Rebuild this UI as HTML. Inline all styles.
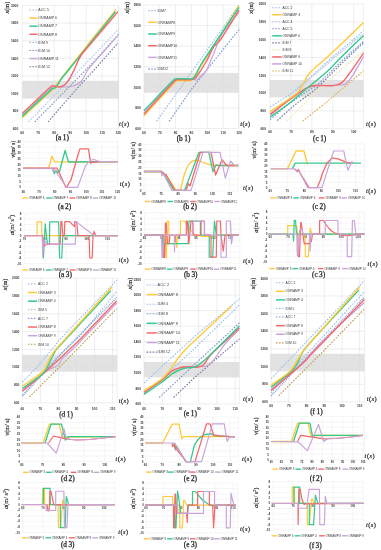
<!DOCTYPE html>
<html><head><meta charset="utf-8"><style>
html,body{margin:0;padding:0;background:#fff;width:381px;height:550px;overflow:hidden}
svg{display:block}
</style></head><body>
<svg width="381" height="550" viewBox="0 0 381 550">
<rect width="381" height="550" fill="#fff"/>
<rect x="22.2" y="80.8" width="96.4" height="17.8" fill="#E2E2E2"/>
<line x1="22.2" y1="128.8" x2="118.6" y2="128.8" stroke="#DDDDDD" stroke-width="0.5"/>
<line x1="22.2" y1="111.19" x2="118.6" y2="111.19" stroke="#DDDDDD" stroke-width="0.5"/>
<line x1="22.2" y1="93.57" x2="118.6" y2="93.57" stroke="#DDDDDD" stroke-width="0.5"/>
<line x1="22.2" y1="75.96" x2="118.6" y2="75.96" stroke="#DDDDDD" stroke-width="0.5"/>
<line x1="22.2" y1="58.34" x2="118.6" y2="58.34" stroke="#DDDDDD" stroke-width="0.5"/>
<line x1="22.2" y1="40.73" x2="118.6" y2="40.73" stroke="#DDDDDD" stroke-width="0.5"/>
<line x1="22.2" y1="23.11" x2="118.6" y2="23.11" stroke="#DDDDDD" stroke-width="0.5"/>
<line x1="22.2" y1="5.5" x2="118.6" y2="5.5" stroke="#DDDDDD" stroke-width="0.5"/>
<line x1="22.2" y1="5.5" x2="22.2" y2="128.8" stroke="#DDDDDD" stroke-width="0.5"/>
<line x1="38.2" y1="5.5" x2="38.2" y2="128.8" stroke="#DDDDDD" stroke-width="0.5"/>
<line x1="54.2" y1="5.5" x2="54.2" y2="128.8" stroke="#DDDDDD" stroke-width="0.5"/>
<line x1="70.2" y1="5.5" x2="70.2" y2="128.8" stroke="#DDDDDD" stroke-width="0.5"/>
<line x1="86.2" y1="5.5" x2="86.2" y2="128.8" stroke="#DDDDDD" stroke-width="0.5"/>
<line x1="102.2" y1="5.5" x2="102.2" y2="128.8" stroke="#DDDDDD" stroke-width="0.5"/>
<line x1="118.2" y1="5.5" x2="118.2" y2="128.8" stroke="#DDDDDD" stroke-width="0.5"/>
<line x1="118.6" y1="5.5" x2="118.6" y2="128.8" stroke="#DDDDDD" stroke-width="0.5"/>
<text x="18.3" y="130" font-size="3.3" text-anchor="end" fill="#3a3a3a" font-family="Liberation Sans, sans-serif" font-weight="bold">600</text>
<text x="18.3" y="112.39" font-size="3.3" text-anchor="end" fill="#3a3a3a" font-family="Liberation Sans, sans-serif" font-weight="bold">800</text>
<text x="18.3" y="94.77" font-size="3.3" text-anchor="end" fill="#3a3a3a" font-family="Liberation Sans, sans-serif" font-weight="bold">1000</text>
<text x="18.3" y="77.16" font-size="3.3" text-anchor="end" fill="#3a3a3a" font-family="Liberation Sans, sans-serif" font-weight="bold">1200</text>
<text x="18.3" y="59.54" font-size="3.3" text-anchor="end" fill="#3a3a3a" font-family="Liberation Sans, sans-serif" font-weight="bold">1400</text>
<text x="18.3" y="41.93" font-size="3.3" text-anchor="end" fill="#3a3a3a" font-family="Liberation Sans, sans-serif" font-weight="bold">1600</text>
<text x="18.3" y="24.31" font-size="3.3" text-anchor="end" fill="#3a3a3a" font-family="Liberation Sans, sans-serif" font-weight="bold">1800</text>
<text x="18.3" y="6.7" font-size="3.3" text-anchor="end" fill="#3a3a3a" font-family="Liberation Sans, sans-serif" font-weight="bold">2000</text>
<text x="22.2" y="134.3" font-size="3.3" text-anchor="middle" fill="#3a3a3a" font-family="Liberation Sans, sans-serif" font-weight="bold">60</text>
<text x="38.2" y="134.3" font-size="3.3" text-anchor="middle" fill="#3a3a3a" font-family="Liberation Sans, sans-serif" font-weight="bold">70</text>
<text x="54.2" y="134.3" font-size="3.3" text-anchor="middle" fill="#3a3a3a" font-family="Liberation Sans, sans-serif" font-weight="bold">80</text>
<text x="70.2" y="134.3" font-size="3.3" text-anchor="middle" fill="#3a3a3a" font-family="Liberation Sans, sans-serif" font-weight="bold">90</text>
<text x="86.2" y="134.3" font-size="3.3" text-anchor="middle" fill="#3a3a3a" font-family="Liberation Sans, sans-serif" font-weight="bold">100</text>
<text x="102.2" y="134.3" font-size="3.3" text-anchor="middle" fill="#3a3a3a" font-family="Liberation Sans, sans-serif" font-weight="bold">110</text>
<text x="118.2" y="134.3" font-size="3.3" text-anchor="middle" fill="#3a3a3a" font-family="Liberation Sans, sans-serif" font-weight="bold">120</text>
<polyline points="28.4,122 89.3,60 118.6,29" fill="none" stroke="#AFCBEC" stroke-width="1.15" stroke-dasharray="1.6,1.4" stroke-linejoin="round"/>
<polyline points="34.7,122 95.6,60 118.6,34" fill="none" stroke="#7D97CC" stroke-width="1.15" stroke-dasharray="1.6,1.4" stroke-linejoin="round"/>
<polyline points="48.1,122 62.8,104.7 80.2,85 93.6,70.5 118,43" fill="none" stroke="#6A7BA0" stroke-width="1.15" stroke-dasharray="1.6,1.4" stroke-linejoin="round"/>
<path d="M22.2,115.5 C26.65,111.2 43.4,94.52 48.9,89.7 C51.01,87.85 52.97,87.05 55.2,86.6 C57.43,86.15 59.46,87.07 62.3,87 C65.18,86.93 69.38,87.12 72.5,86.2 C75.62,85.28 78.45,84.2 81,81.5 C83.55,78.8 85.02,73.83 87.8,70 C90.58,66.17 93.7,63.07 97.7,58.5 C102.73,52.75 114.62,39.33 118,35.5" fill="none" stroke="#C9A3D9" stroke-width="1.1"/>
<path d="M22.2,117.7 C27.43,112.85 47.83,94.18 53.6,88.6 C55.16,87.09 55.48,85.93 56.8,84.2 C59.17,81.1 63.35,75.64 67.8,70 C74.17,61.93 86.97,45.87 95,35.8 C103.03,25.73 112.5,13.97 116,9.6" fill="none" stroke="#FFCA3A" stroke-width="1.4"/>
<path d="M22.2,116.2 C27.17,111.65 46.37,93.72 52,88.9 C53.31,87.78 54.83,88.56 56,87.3 C57.58,85.6 59.53,81.42 61.5,78.7 C63.47,75.98 65.3,74.1 67.8,71 C73.38,64.07 87.05,46.97 95,37.1 C102.95,27.23 112.08,16.02 115.5,11.8" fill="none" stroke="#34C98E" stroke-width="1.4"/>
<path d="M22.2,113.5 C26.92,109.08 45.27,91.63 50.5,87 C51.51,86.11 52.26,85.7 53.6,85.7 C55.03,85.7 57.38,87.05 59.1,87 C60.82,86.95 62.32,86.53 63.9,85.4 C65.48,84.27 67.05,82.54 68.6,80.2 C70.3,77.63 72.03,74.12 74.1,70 C76.17,65.88 77.52,60.69 81,55.5 C84.48,50.31 89.39,45.5 95,38.85 C101.17,31.53 114.17,16.14 118,11.6" fill="none" stroke="#F5686A" stroke-width="1.4"/>
<polyline points="29.5,10 37.5,10" fill="none" stroke="#9DC0E8" stroke-width="1.1" stroke-dasharray="1.6,1.4" stroke-linejoin="round"/>
<text x="38.3" y="11.2" font-size="3.6" text-anchor="start" fill="#404040" font-family="Liberation Sans, sans-serif">ACC 5</text>
<polyline points="29.5,18.1 37.5,18.1" fill="none" stroke="#FFCA3A" stroke-width="1.5" stroke-linejoin="round"/>
<text x="38.3" y="19.3" font-size="3.6" text-anchor="start" fill="#404040" font-family="Liberation Sans, sans-serif">ONRAMP 6</text>
<polyline points="29.5,26.2 37.5,26.2" fill="none" stroke="#34C98E" stroke-width="1.5" stroke-linejoin="round"/>
<text x="38.3" y="27.4" font-size="3.6" text-anchor="start" fill="#404040" font-family="Liberation Sans, sans-serif">ONRAMP 7</text>
<polyline points="29.5,34.3 37.5,34.3" fill="none" stroke="#F5686A" stroke-width="1.5" stroke-linejoin="round"/>
<text x="38.3" y="35.5" font-size="3.6" text-anchor="start" fill="#404040" font-family="Liberation Sans, sans-serif">ONRAMP 8</text>
<polyline points="29.5,42.4 37.5,42.4" fill="none" stroke="#9DC0E8" stroke-width="1.1" stroke-dasharray="1.6,1.4" stroke-linejoin="round"/>
<text x="38.3" y="43.6" font-size="3.6" text-anchor="start" fill="#404040" font-family="Liberation Sans, sans-serif">IDM 9</text>
<polyline points="29.5,50.5 37.5,50.5" fill="none" stroke="#7D97CC" stroke-width="1.1" stroke-dasharray="1.6,1.4" stroke-linejoin="round"/>
<text x="38.3" y="51.7" font-size="3.6" text-anchor="start" fill="#404040" font-family="Liberation Sans, sans-serif">IDM 10</text>
<polyline points="29.5,58.6 37.5,58.6" fill="none" stroke="#C9A3D9" stroke-width="1.5" stroke-linejoin="round"/>
<text x="38.3" y="59.8" font-size="3.6" text-anchor="start" fill="#404040" font-family="Liberation Sans, sans-serif">ONRAMP 11</text>
<polyline points="29.5,66.7 37.5,66.7" fill="none" stroke="#6A7BA0" stroke-width="1.1" stroke-dasharray="1.6,1.4" stroke-linejoin="round"/>
<text x="38.3" y="67.9" font-size="3.6" text-anchor="start" fill="#404040" font-family="Liberation Sans, sans-serif">IDM 12</text>
<text x="8.67" y="7.6" font-size="6.2" text-anchor="middle" fill="#222" stroke="#222" stroke-width="0.15" font-family="Liberation Serif, serif" transform="rotate(-90 8.67 7.6)"><tspan font-style="italic">x</tspan>(m)</text>
<text x="119.1" y="125.8" font-size="6.4" letter-spacing="0.5" fill="#222" stroke="#222" stroke-width="0.2" font-family="Liberation Serif, serif"><tspan font-style="italic">t</tspan>(<tspan font-style="italic">s</tspan>)</text>
<text x="62.3" y="139.8" font-size="7.3" text-anchor="middle" fill="#222" stroke="#222" stroke-width="0.25" font-family="Liberation Serif, serif">(a&#8201;1)</text>
<rect x="144" y="72.9" width="94.6" height="19.9" fill="#E2E2E2"/>
<line x1="144" y1="128.5" x2="238.6" y2="128.5" stroke="#DDDDDD" stroke-width="0.5"/>
<line x1="144" y1="107.92" x2="238.6" y2="107.92" stroke="#DDDDDD" stroke-width="0.5"/>
<line x1="144" y1="87.33" x2="238.6" y2="87.33" stroke="#DDDDDD" stroke-width="0.5"/>
<line x1="144" y1="66.75" x2="238.6" y2="66.75" stroke="#DDDDDD" stroke-width="0.5"/>
<line x1="144" y1="46.17" x2="238.6" y2="46.17" stroke="#DDDDDD" stroke-width="0.5"/>
<line x1="144" y1="25.58" x2="238.6" y2="25.58" stroke="#DDDDDD" stroke-width="0.5"/>
<line x1="144" y1="5" x2="238.6" y2="5" stroke="#DDDDDD" stroke-width="0.5"/>
<line x1="143.9" y1="5" x2="143.9" y2="128.5" stroke="#DDDDDD" stroke-width="0.5"/>
<line x1="159.75" y1="5" x2="159.75" y2="128.5" stroke="#DDDDDD" stroke-width="0.5"/>
<line x1="175.6" y1="5" x2="175.6" y2="128.5" stroke="#DDDDDD" stroke-width="0.5"/>
<line x1="191.45" y1="5" x2="191.45" y2="128.5" stroke="#DDDDDD" stroke-width="0.5"/>
<line x1="207.3" y1="5" x2="207.3" y2="128.5" stroke="#DDDDDD" stroke-width="0.5"/>
<line x1="223.15" y1="5" x2="223.15" y2="128.5" stroke="#DDDDDD" stroke-width="0.5"/>
<line x1="239" y1="5" x2="239" y2="128.5" stroke="#DDDDDD" stroke-width="0.5"/>
<line x1="238.6" y1="5" x2="238.6" y2="128.5" stroke="#DDDDDD" stroke-width="0.5"/>
<text x="140.8" y="129.7" font-size="3.3" text-anchor="end" fill="#3a3a3a" font-family="Liberation Sans, sans-serif" font-weight="bold">600</text>
<text x="140.8" y="109.12" font-size="3.3" text-anchor="end" fill="#3a3a3a" font-family="Liberation Sans, sans-serif" font-weight="bold">800</text>
<text x="140.8" y="88.53" font-size="3.3" text-anchor="end" fill="#3a3a3a" font-family="Liberation Sans, sans-serif" font-weight="bold">1000</text>
<text x="140.8" y="67.95" font-size="3.3" text-anchor="end" fill="#3a3a3a" font-family="Liberation Sans, sans-serif" font-weight="bold">1200</text>
<text x="140.8" y="47.37" font-size="3.3" text-anchor="end" fill="#3a3a3a" font-family="Liberation Sans, sans-serif" font-weight="bold">1400</text>
<text x="140.8" y="26.78" font-size="3.3" text-anchor="end" fill="#3a3a3a" font-family="Liberation Sans, sans-serif" font-weight="bold">1600</text>
<text x="140.8" y="6.2" font-size="3.3" text-anchor="end" fill="#3a3a3a" font-family="Liberation Sans, sans-serif" font-weight="bold">1800</text>
<text x="143.9" y="134.2" font-size="3.3" text-anchor="middle" fill="#3a3a3a" font-family="Liberation Sans, sans-serif" font-weight="bold">60</text>
<text x="159.75" y="134.2" font-size="3.3" text-anchor="middle" fill="#3a3a3a" font-family="Liberation Sans, sans-serif" font-weight="bold">70</text>
<text x="175.6" y="134.2" font-size="3.3" text-anchor="middle" fill="#3a3a3a" font-family="Liberation Sans, sans-serif" font-weight="bold">80</text>
<text x="191.45" y="134.2" font-size="3.3" text-anchor="middle" fill="#3a3a3a" font-family="Liberation Sans, sans-serif" font-weight="bold">90</text>
<text x="207.3" y="134.2" font-size="3.3" text-anchor="middle" fill="#3a3a3a" font-family="Liberation Sans, sans-serif" font-weight="bold">100</text>
<text x="223.15" y="134.2" font-size="3.3" text-anchor="middle" fill="#3a3a3a" font-family="Liberation Sans, sans-serif" font-weight="bold">110</text>
<text x="239" y="134.2" font-size="3.3" text-anchor="middle" fill="#3a3a3a" font-family="Liberation Sans, sans-serif" font-weight="bold">120</text>
<polyline points="156.5,121.4 200,60 239,4.9" fill="none" stroke="#9DC0E8" stroke-width="1.15" stroke-dasharray="1.6,1.4" stroke-linejoin="round"/>
<polyline points="169.1,121.4 191.5,89.2 239,29.5" fill="none" stroke="#7D97CC" stroke-width="1.15" stroke-dasharray="1.6,1.4" stroke-linejoin="round"/>
<path d="M143.9,112.8 C149,107.33 168.82,85.6 174.5,80 C175.52,78.99 176.56,79.25 178,79.2 C180.65,79.12 187.73,79.5 190.4,79.5 C191.84,79.5 192.98,79.08 194,79.2 C195.02,79.32 195.52,80.65 196.5,80.2 C197.67,79.67 199.37,77.63 201,76 C202.63,74.37 204.77,73.08 206.3,70.4 C208.4,66.73 211.02,60 213.6,54 C216.18,48 217.57,41.35 221.8,34.4 C226.03,27.45 236.13,15.98 239,12.3" fill="none" stroke="#C9A3D9" stroke-width="1.2"/>
<path d="M143.9,115.9 C149.28,110.13 169.85,87.17 176.2,81.3 C177.91,79.72 179.67,80.83 182,80.7 C184.37,80.57 188.57,80.87 190.4,80.5 C191.69,80.24 192.29,79.6 193,78.5 C201.1,66.03 231.33,17.83 239,5.7" fill="none" stroke="#FFCA3A" stroke-width="1.4"/>
<path d="M143.9,114.3 C149.15,108.67 169.38,86.27 175.4,80.5 C176.75,79.21 178.14,79.8 180,79.7 C182.5,79.57 188.02,79.88 190.4,79.7 C192.02,79.58 193.2,79.22 194.3,78.6 C195.4,77.98 196.14,77.23 197,76 C198.95,73.23 203.23,66.83 206,62 C208.77,57.17 211.77,50.08 213.6,47 C214.6,45.32 215.77,44.83 217,43.5 C218.23,42.17 219.68,41.01 221,39 C224.67,33.43 236,14.92 239,10.1" fill="none" stroke="#F5686A" stroke-width="1.4"/>
<path d="M143.9,110.7 C148.9,105.53 168.25,85.05 173.9,79.7 C175.08,78.59 176.18,78.68 177.8,78.6 C180.55,78.47 187.78,78.98 190.4,78.9 C191.68,78.86 192.57,78.83 193.5,78.1 C194.43,77.37 195.15,76.03 196,74.5 C197.32,72.12 198.81,67.84 201.4,63.8 C208.57,52.62 232.73,16.8 239,7.4" fill="none" stroke="#34C98E" stroke-width="1.4"/>
<polyline points="148.2,10.6 156.7,10.6" fill="none" stroke="#9DC0E8" stroke-width="1.1" stroke-dasharray="1.6,1.4" stroke-linejoin="round"/>
<text x="157.5" y="11.8" font-size="3.6" text-anchor="start" fill="#404040" font-family="Liberation Sans, sans-serif">IDM7</text>
<polyline points="148.2,22.3 156.7,22.3" fill="none" stroke="#FFCA3A" stroke-width="1.5" stroke-linejoin="round"/>
<text x="157.5" y="23.5" font-size="3.6" text-anchor="start" fill="#404040" font-family="Liberation Sans, sans-serif">ONRAMP8</text>
<polyline points="148.2,34 156.7,34" fill="none" stroke="#34C98E" stroke-width="1.5" stroke-linejoin="round"/>
<text x="157.5" y="35.2" font-size="3.6" text-anchor="start" fill="#404040" font-family="Liberation Sans, sans-serif">ONRAMP9</text>
<polyline points="148.2,45.7 156.7,45.7" fill="none" stroke="#F5686A" stroke-width="1.5" stroke-linejoin="round"/>
<text x="157.5" y="46.9" font-size="3.6" text-anchor="start" fill="#404040" font-family="Liberation Sans, sans-serif">ONRAMP10</text>
<polyline points="148.2,57.4 156.7,57.4" fill="none" stroke="#C9A3D9" stroke-width="1.5" stroke-linejoin="round"/>
<text x="157.5" y="58.6" font-size="3.6" text-anchor="start" fill="#404040" font-family="Liberation Sans, sans-serif">ONRAMP11</text>
<polyline points="148.2,69.1 156.7,69.1" fill="none" stroke="#7D97CC" stroke-width="1.1" stroke-dasharray="1.6,1.4" stroke-linejoin="round"/>
<text x="157.5" y="70.3" font-size="3.6" text-anchor="start" fill="#404040" font-family="Liberation Sans, sans-serif">IDM12</text>
<text x="129.17" y="7.7" font-size="6.2" text-anchor="middle" fill="#222" stroke="#222" stroke-width="0.15" font-family="Liberation Serif, serif" transform="rotate(-90 129.17 7.7)"><tspan font-style="italic">x</tspan>(m)</text>
<text x="240.2" y="126.3" font-size="6.4" letter-spacing="0.5" fill="#222" stroke="#222" stroke-width="0.2" font-family="Liberation Serif, serif"><tspan font-style="italic">t</tspan>(<tspan font-style="italic">s</tspan>)</text>
<text x="183.5" y="140.6" font-size="7.3" text-anchor="middle" fill="#222" stroke="#222" stroke-width="0.25" font-family="Liberation Serif, serif">(b&#8201;1)</text>
<rect x="269.5" y="80" width="93.9" height="17.3" fill="#E2E2E2"/>
<line x1="269.5" y1="128.7" x2="363.4" y2="128.7" stroke="#DDDDDD" stroke-width="0.5"/>
<line x1="269.5" y1="110.9" x2="363.4" y2="110.9" stroke="#DDDDDD" stroke-width="0.5"/>
<line x1="269.5" y1="93.1" x2="363.4" y2="93.1" stroke="#DDDDDD" stroke-width="0.5"/>
<line x1="269.5" y1="75.3" x2="363.4" y2="75.3" stroke="#DDDDDD" stroke-width="0.5"/>
<line x1="269.5" y1="57.5" x2="363.4" y2="57.5" stroke="#DDDDDD" stroke-width="0.5"/>
<line x1="269.5" y1="39.7" x2="363.4" y2="39.7" stroke="#DDDDDD" stroke-width="0.5"/>
<line x1="269.5" y1="21.9" x2="363.4" y2="21.9" stroke="#DDDDDD" stroke-width="0.5"/>
<line x1="269.5" y1="4.1" x2="363.4" y2="4.1" stroke="#DDDDDD" stroke-width="0.5"/>
<line x1="270.1" y1="4.1" x2="270.1" y2="128.7" stroke="#DDDDDD" stroke-width="0.5"/>
<line x1="291" y1="4.1" x2="291" y2="128.7" stroke="#DDDDDD" stroke-width="0.5"/>
<line x1="311.9" y1="4.1" x2="311.9" y2="128.7" stroke="#DDDDDD" stroke-width="0.5"/>
<line x1="332.8" y1="4.1" x2="332.8" y2="128.7" stroke="#DDDDDD" stroke-width="0.5"/>
<line x1="353.7" y1="4.1" x2="353.7" y2="128.7" stroke="#DDDDDD" stroke-width="0.5"/>
<line x1="363.4" y1="4.1" x2="363.4" y2="128.7" stroke="#DDDDDD" stroke-width="0.5"/>
<text x="266" y="129.9" font-size="3.3" text-anchor="end" fill="#3a3a3a" font-family="Liberation Sans, sans-serif" font-weight="bold">600</text>
<text x="266" y="112.1" font-size="3.3" text-anchor="end" fill="#3a3a3a" font-family="Liberation Sans, sans-serif" font-weight="bold">800</text>
<text x="266" y="94.3" font-size="3.3" text-anchor="end" fill="#3a3a3a" font-family="Liberation Sans, sans-serif" font-weight="bold">1000</text>
<text x="266" y="76.5" font-size="3.3" text-anchor="end" fill="#3a3a3a" font-family="Liberation Sans, sans-serif" font-weight="bold">1200</text>
<text x="266" y="58.7" font-size="3.3" text-anchor="end" fill="#3a3a3a" font-family="Liberation Sans, sans-serif" font-weight="bold">1400</text>
<text x="266" y="40.9" font-size="3.3" text-anchor="end" fill="#3a3a3a" font-family="Liberation Sans, sans-serif" font-weight="bold">1600</text>
<text x="266" y="23.1" font-size="3.3" text-anchor="end" fill="#3a3a3a" font-family="Liberation Sans, sans-serif" font-weight="bold">1800</text>
<text x="266" y="5.3" font-size="3.3" text-anchor="end" fill="#3a3a3a" font-family="Liberation Sans, sans-serif" font-weight="bold">2000</text>
<text x="270.1" y="133.2" font-size="3.3" text-anchor="middle" fill="#3a3a3a" font-family="Liberation Sans, sans-serif" font-weight="bold">60</text>
<text x="291" y="133.2" font-size="3.3" text-anchor="middle" fill="#3a3a3a" font-family="Liberation Sans, sans-serif" font-weight="bold">70</text>
<text x="311.9" y="133.2" font-size="3.3" text-anchor="middle" fill="#3a3a3a" font-family="Liberation Sans, sans-serif" font-weight="bold">80</text>
<text x="332.8" y="133.2" font-size="3.3" text-anchor="middle" fill="#3a3a3a" font-family="Liberation Sans, sans-serif" font-weight="bold">90</text>
<text x="353.7" y="133.2" font-size="3.3" text-anchor="middle" fill="#3a3a3a" font-family="Liberation Sans, sans-serif" font-weight="bold">100</text>
<polyline points="270.1,107 290,94.4 300,86 333.1,56.5 363.3,31" fill="none" stroke="#9DC0E8" stroke-width="1.15" stroke-dasharray="1.6,1.4" stroke-linejoin="round"/>
<polyline points="270.1,119.5 287.7,104.8 300.8,95.6 318,84.4 340,62.5 363.3,41.5" fill="none" stroke="#7D97CC" stroke-width="1.15" stroke-dasharray="1.6,1.4" stroke-linejoin="round"/>
<polyline points="277.2,120.5 294.2,105.4 307.4,95.6 318,87.1 340,65 363.3,43" fill="none" stroke="#6A7BA0" stroke-width="1.15" stroke-dasharray="1.6,1.4" stroke-linejoin="round"/>
<polyline points="286.9,121.1 324.2,84 363.3,51" fill="none" stroke="#F6E6B0" stroke-width="1.15" stroke-dasharray="1.6,1.4" stroke-linejoin="round"/>
<polyline points="302.6,121.1 328,101 363.3,70.9" fill="none" stroke="#DDB04E" stroke-width="1.15" stroke-dasharray="1.6,1.4" stroke-linejoin="round"/>
<polyline points="296,90.5 298,88.9 333.1,58.6 363.3,33.5" fill="none" stroke="#AFC3EA" stroke-width="1.6" stroke-dasharray="1,1" stroke-linejoin="round"/>
<path d="M270.1,114 C273.68,111.3 285.92,101.93 291.6,97.8 C296.53,94.21 300.52,91.27 304.2,89.2 C307.77,87.2 309.65,86 313.7,85.4 C318,84.77 325.62,85.47 330,85.4 C334,85.34 337.42,85.23 340,85 C342.23,84.8 343.7,85.33 345.5,84 C347.6,82.45 350.2,79.35 352.6,75.7 C355.62,71.12 361.77,59.7 363.6,56.5" fill="none" stroke="#C9A3D9" stroke-width="1.2"/>
<path d="M270.1,114.8 C273.68,112.05 285.92,102.5 291.6,98.3 C296.53,94.66 300.52,91.7 304.2,89.6 C307.77,87.57 309.63,86.25 313.7,85.7 C318.6,85.03 328.7,86.28 333.6,85.6 C337.68,85.03 340.3,84.63 343.1,81.6 C348.1,76.2 360.18,57.93 363.6,53.2" fill="none" stroke="#F5686A" stroke-width="1.4"/>
<path d="M270.1,117.2 C273.52,114.72 284.92,106.72 290.6,102.3 C296.25,97.91 298.74,95.31 304.2,90.7 C310.43,85.43 322.3,75.82 328,70.7 C332.44,66.71 334.16,64.2 338.4,60 C344.33,54.12 359.4,39.5 363.6,35.4" fill="none" stroke="#34C98E" stroke-width="1.4"/>
<path d="M270.1,111.7 C271.93,110.47 277.73,106.58 281.1,104.3 C284.47,102.02 287.45,100.03 290.3,98 C293.15,95.97 296.02,94.53 298.2,92.1 C300.38,89.67 301.87,86.08 303.4,83.4 C304.93,80.72 306.05,78.07 307.4,76 C308.75,73.93 310.2,72.4 311.5,71 C312.8,69.6 313.69,68.92 315.2,67.6 C317.95,65.2 323.06,61.2 328,56.6 C336.07,49.1 357.67,28.27 363.6,22.6" fill="none" stroke="#FFCA3A" stroke-width="1.4"/>
<polyline points="272.2,7.7 281.6,7.7" fill="none" stroke="#9DC0E8" stroke-width="1.1" stroke-dasharray="1.6,1.4" stroke-linejoin="round"/>
<text x="282.4" y="8.9" font-size="3.4" text-anchor="start" fill="#404040" font-family="Liberation Sans, sans-serif">ACC 2</text>
<polyline points="272.2,14.73 281.6,14.73" fill="none" stroke="#FFCA3A" stroke-width="1.5" stroke-linejoin="round"/>
<text x="282.4" y="15.93" font-size="3.4" text-anchor="start" fill="#404040" font-family="Liberation Sans, sans-serif">ONRAMP 3</text>
<polyline points="272.2,21.76 281.6,21.76" fill="none" stroke="#AFC3EA" stroke-width="1.1" stroke-dasharray="1.6,1.4" stroke-linejoin="round"/>
<text x="282.4" y="22.96" font-size="3.4" text-anchor="start" fill="#404040" font-family="Liberation Sans, sans-serif">ACC 4</text>
<polyline points="272.2,28.79 281.6,28.79" fill="none" stroke="#7D97CC" stroke-width="1.1" stroke-dasharray="1.6,1.4" stroke-linejoin="round"/>
<text x="282.4" y="29.99" font-size="3.4" text-anchor="start" fill="#404040" font-family="Liberation Sans, sans-serif">ACC 5</text>
<polyline points="272.2,35.82 281.6,35.82" fill="none" stroke="#34C98E" stroke-width="1.5" stroke-linejoin="round"/>
<text x="282.4" y="37.02" font-size="3.4" text-anchor="start" fill="#404040" font-family="Liberation Sans, sans-serif">ONRAMP 6</text>
<polyline points="272.2,42.85 281.6,42.85" fill="none" stroke="#6A7BA0" stroke-width="1.1" stroke-dasharray="1.6,1.4" stroke-linejoin="round"/>
<text x="282.4" y="44.05" font-size="3.4" text-anchor="start" fill="#404040" font-family="Liberation Sans, sans-serif">IDM 7</text>
<polyline points="272.2,49.88 281.6,49.88" fill="none" stroke="#F6E6B0" stroke-width="1.1" stroke-dasharray="1.6,1.4" stroke-linejoin="round"/>
<text x="282.4" y="51.08" font-size="3.4" text-anchor="start" fill="#404040" font-family="Liberation Sans, sans-serif">IDM 8</text>
<polyline points="272.2,56.91 281.6,56.91" fill="none" stroke="#F5686A" stroke-width="1.5" stroke-linejoin="round"/>
<text x="282.4" y="58.11" font-size="3.4" text-anchor="start" fill="#404040" font-family="Liberation Sans, sans-serif">ONRAMP 9</text>
<polyline points="272.2,63.94 281.6,63.94" fill="none" stroke="#C9A3D9" stroke-width="1.5" stroke-linejoin="round"/>
<text x="282.4" y="65.14" font-size="3.4" text-anchor="start" fill="#404040" font-family="Liberation Sans, sans-serif">ONRAMP 10</text>
<polyline points="272.2,70.97 281.6,70.97" fill="none" stroke="#DDB04E" stroke-width="1.1" stroke-dasharray="1.6,1.4" stroke-linejoin="round"/>
<text x="282.4" y="72.17" font-size="3.4" text-anchor="start" fill="#404040" font-family="Liberation Sans, sans-serif">IDM 11</text>
<text x="252.57" y="7.9" font-size="6.2" text-anchor="middle" fill="#222" stroke="#222" stroke-width="0.15" font-family="Liberation Serif, serif" transform="rotate(-90 252.57 7.9)"><tspan font-style="italic">x</tspan>(m)</text>
<text x="365.9" y="125.8" font-size="6.4" letter-spacing="0.5" fill="#222" stroke="#222" stroke-width="0.2" font-family="Liberation Serif, serif"><tspan font-style="italic">t</tspan>(<tspan font-style="italic">s</tspan>)</text>
<text x="319.7" y="140.6" font-size="7.3" text-anchor="middle" fill="#222" stroke="#222" stroke-width="0.25" font-family="Liberation Serif, serif">(c&#8201;1)</text>
<line x1="23.5" y1="187.2" x2="117.6" y2="187.2" stroke="#EDEDED" stroke-width="0.5"/>
<line x1="23.5" y1="181.49" x2="117.6" y2="181.49" stroke="#EDEDED" stroke-width="0.5"/>
<line x1="23.5" y1="175.77" x2="117.6" y2="175.77" stroke="#EDEDED" stroke-width="0.5"/>
<line x1="23.5" y1="170.06" x2="117.6" y2="170.06" stroke="#EDEDED" stroke-width="0.5"/>
<line x1="23.5" y1="164.35" x2="117.6" y2="164.35" stroke="#EDEDED" stroke-width="0.5"/>
<line x1="23.5" y1="158.64" x2="117.6" y2="158.64" stroke="#EDEDED" stroke-width="0.5"/>
<line x1="23.5" y1="152.93" x2="117.6" y2="152.93" stroke="#EDEDED" stroke-width="0.5"/>
<line x1="23.5" y1="147.21" x2="117.6" y2="147.21" stroke="#EDEDED" stroke-width="0.5"/>
<line x1="23.5" y1="141.5" x2="117.6" y2="141.5" stroke="#EDEDED" stroke-width="0.5"/>
<line x1="23.3" y1="141.5" x2="23.3" y2="187.2" stroke="#EDEDED" stroke-width="0.5"/>
<line x1="39.02" y1="141.5" x2="39.02" y2="187.2" stroke="#EDEDED" stroke-width="0.5"/>
<line x1="54.73" y1="141.5" x2="54.73" y2="187.2" stroke="#EDEDED" stroke-width="0.5"/>
<line x1="70.45" y1="141.5" x2="70.45" y2="187.2" stroke="#EDEDED" stroke-width="0.5"/>
<line x1="86.17" y1="141.5" x2="86.17" y2="187.2" stroke="#EDEDED" stroke-width="0.5"/>
<line x1="101.88" y1="141.5" x2="101.88" y2="187.2" stroke="#EDEDED" stroke-width="0.5"/>
<line x1="117.6" y1="141.5" x2="117.6" y2="187.2" stroke="#EDEDED" stroke-width="0.5"/>
<line x1="117.6" y1="141.5" x2="117.6" y2="187.2" stroke="#EDEDED" stroke-width="0.5"/>
<text x="20.8" y="188.4" font-size="3.0" text-anchor="end" fill="#3a3a3a" font-family="Liberation Sans, sans-serif" font-weight="bold">0</text>
<text x="20.8" y="182.69" font-size="3.0" text-anchor="end" fill="#3a3a3a" font-family="Liberation Sans, sans-serif" font-weight="bold">5</text>
<text x="20.8" y="176.97" font-size="3.0" text-anchor="end" fill="#3a3a3a" font-family="Liberation Sans, sans-serif" font-weight="bold">10</text>
<text x="20.8" y="171.26" font-size="3.0" text-anchor="end" fill="#3a3a3a" font-family="Liberation Sans, sans-serif" font-weight="bold">15</text>
<text x="20.8" y="165.55" font-size="3.0" text-anchor="end" fill="#3a3a3a" font-family="Liberation Sans, sans-serif" font-weight="bold">20</text>
<text x="20.8" y="159.84" font-size="3.0" text-anchor="end" fill="#3a3a3a" font-family="Liberation Sans, sans-serif" font-weight="bold">25</text>
<text x="20.8" y="154.12" font-size="3.0" text-anchor="end" fill="#3a3a3a" font-family="Liberation Sans, sans-serif" font-weight="bold">30</text>
<text x="20.8" y="148.41" font-size="3.0" text-anchor="end" fill="#3a3a3a" font-family="Liberation Sans, sans-serif" font-weight="bold">35</text>
<text x="20.8" y="142.7" font-size="3.0" text-anchor="end" fill="#3a3a3a" font-family="Liberation Sans, sans-serif" font-weight="bold">40</text>
<text x="23.3" y="193" font-size="3.0" text-anchor="middle" fill="#3a3a3a" font-family="Liberation Sans, sans-serif" font-weight="bold">60</text>
<text x="39.02" y="193" font-size="3.0" text-anchor="middle" fill="#3a3a3a" font-family="Liberation Sans, sans-serif" font-weight="bold">70</text>
<text x="54.73" y="193" font-size="3.0" text-anchor="middle" fill="#3a3a3a" font-family="Liberation Sans, sans-serif" font-weight="bold">80</text>
<text x="70.45" y="193" font-size="3.0" text-anchor="middle" fill="#3a3a3a" font-family="Liberation Sans, sans-serif" font-weight="bold">90</text>
<text x="86.17" y="193" font-size="3.0" text-anchor="middle" fill="#3a3a3a" font-family="Liberation Sans, sans-serif" font-weight="bold">100</text>
<text x="101.88" y="193" font-size="3.0" text-anchor="middle" fill="#3a3a3a" font-family="Liberation Sans, sans-serif" font-weight="bold">110</text>
<text x="117.6" y="193" font-size="3.0" text-anchor="middle" fill="#3a3a3a" font-family="Liberation Sans, sans-serif" font-weight="bold">120</text>
<polyline points="23.3,168.2 48.6,168.2 52,156.2 54.6,161.8 117.6,161.8" fill="none" stroke="#FFCA3A" stroke-width="1.3" stroke-linejoin="round"/>
<polyline points="52,168.2 52.8,168.9 54.3,173.6 55.9,170.4 57.5,172.8 59.5,171.5 65.1,150.5 68.5,162 117.6,161.6" fill="none" stroke="#34C98E" stroke-width="1.3" stroke-linejoin="round"/>
<polyline points="23.3,168.2 57.2,168.2 65.8,187.3 66.5,187.3 67.8,185.3 69.7,181.5 70.7,181 76.5,160 79.9,148.9 88.5,148.9 90.7,163.3 92.5,162 94.5,162.3 97,161.8 100,161.6 117.6,161.6" fill="none" stroke="#F5686A" stroke-width="1.3" stroke-linejoin="round"/>
<polyline points="23.3,168.2 52,168.2 53,171 54,169.5 56,172 66.8,187.3 77.6,187.3 79.4,182.5 81.2,177.8 83.3,171.8 85.4,166.3 87.5,163.2 89.6,161 91.5,160 94.1,159.5 97,160.8 100.4,161.6 117.6,161.6" fill="none" stroke="#C9A3D9" stroke-width="1.15" stroke-linejoin="round"/>
<polyline points="22.4,198 28,198" fill="none" stroke="#FFCA3A" stroke-width="1.4" stroke-linejoin="round"/>
<text x="28.8" y="199" font-size="3.0" text-anchor="start" fill="#404040" font-family="Liberation Sans, sans-serif">ONRAMP 6</text>
<polyline points="46.2,198 51.8,198" fill="none" stroke="#34C98E" stroke-width="1.4" stroke-linejoin="round"/>
<text x="52.6" y="199" font-size="3.0" text-anchor="start" fill="#404040" font-family="Liberation Sans, sans-serif">ONRAMP 7</text>
<polyline points="69.6,198 75.2,198" fill="none" stroke="#F5686A" stroke-width="1.4" stroke-linejoin="round"/>
<text x="76" y="199" font-size="3.0" text-anchor="start" fill="#404040" font-family="Liberation Sans, sans-serif">ONRAMP 8</text>
<polyline points="92.8,198 98.4,198" fill="none" stroke="#C9A3D9" stroke-width="1.4" stroke-linejoin="round"/>
<text x="99.2" y="199" font-size="3.0" text-anchor="start" fill="#404040" font-family="Liberation Sans, sans-serif">ONRAMP 11</text>
<text x="14.79" y="149.2" font-size="5.9" text-anchor="middle" fill="#222" stroke="#222" stroke-width="0.15" font-family="Liberation Serif, serif" transform="rotate(-90 14.79 149.2)">v(m/ s)</text>
<text x="119.8" y="186.3" font-size="6.4" letter-spacing="0.5" fill="#222" stroke="#222" stroke-width="0.2" font-family="Liberation Serif, serif"><tspan font-style="italic">t</tspan>(<tspan font-style="italic">s</tspan>)</text>
<text x="64.6" y="209" font-size="7.3" text-anchor="middle" fill="#222" stroke="#222" stroke-width="0.25" font-family="Liberation Serif, serif">(a&#8201;2)</text>
<line x1="143.5" y1="190.8" x2="238.3" y2="190.8" stroke="#EDEDED" stroke-width="0.5"/>
<line x1="143.5" y1="185.01" x2="238.3" y2="185.01" stroke="#EDEDED" stroke-width="0.5"/>
<line x1="143.5" y1="179.23" x2="238.3" y2="179.23" stroke="#EDEDED" stroke-width="0.5"/>
<line x1="143.5" y1="173.44" x2="238.3" y2="173.44" stroke="#EDEDED" stroke-width="0.5"/>
<line x1="143.5" y1="167.65" x2="238.3" y2="167.65" stroke="#EDEDED" stroke-width="0.5"/>
<line x1="143.5" y1="161.86" x2="238.3" y2="161.86" stroke="#EDEDED" stroke-width="0.5"/>
<line x1="143.5" y1="156.07" x2="238.3" y2="156.07" stroke="#EDEDED" stroke-width="0.5"/>
<line x1="143.5" y1="150.29" x2="238.3" y2="150.29" stroke="#EDEDED" stroke-width="0.5"/>
<line x1="143.5" y1="144.5" x2="238.3" y2="144.5" stroke="#EDEDED" stroke-width="0.5"/>
<line x1="143.9" y1="144.5" x2="143.9" y2="190.8" stroke="#EDEDED" stroke-width="0.5"/>
<line x1="161.06" y1="144.5" x2="161.06" y2="190.8" stroke="#EDEDED" stroke-width="0.5"/>
<line x1="178.22" y1="144.5" x2="178.22" y2="190.8" stroke="#EDEDED" stroke-width="0.5"/>
<line x1="195.38" y1="144.5" x2="195.38" y2="190.8" stroke="#EDEDED" stroke-width="0.5"/>
<line x1="212.54" y1="144.5" x2="212.54" y2="190.8" stroke="#EDEDED" stroke-width="0.5"/>
<line x1="229.7" y1="144.5" x2="229.7" y2="190.8" stroke="#EDEDED" stroke-width="0.5"/>
<line x1="238.3" y1="144.5" x2="238.3" y2="190.8" stroke="#EDEDED" stroke-width="0.5"/>
<text x="141.5" y="192" font-size="3.0" text-anchor="end" fill="#3a3a3a" font-family="Liberation Sans, sans-serif" font-weight="bold">0</text>
<text x="141.5" y="186.21" font-size="3.0" text-anchor="end" fill="#3a3a3a" font-family="Liberation Sans, sans-serif" font-weight="bold">5</text>
<text x="141.5" y="180.43" font-size="3.0" text-anchor="end" fill="#3a3a3a" font-family="Liberation Sans, sans-serif" font-weight="bold">10</text>
<text x="141.5" y="174.64" font-size="3.0" text-anchor="end" fill="#3a3a3a" font-family="Liberation Sans, sans-serif" font-weight="bold">15</text>
<text x="141.5" y="168.85" font-size="3.0" text-anchor="end" fill="#3a3a3a" font-family="Liberation Sans, sans-serif" font-weight="bold">20</text>
<text x="141.5" y="163.06" font-size="3.0" text-anchor="end" fill="#3a3a3a" font-family="Liberation Sans, sans-serif" font-weight="bold">25</text>
<text x="141.5" y="157.27" font-size="3.0" text-anchor="end" fill="#3a3a3a" font-family="Liberation Sans, sans-serif" font-weight="bold">30</text>
<text x="141.5" y="151.49" font-size="3.0" text-anchor="end" fill="#3a3a3a" font-family="Liberation Sans, sans-serif" font-weight="bold">35</text>
<text x="141.5" y="145.7" font-size="3.0" text-anchor="end" fill="#3a3a3a" font-family="Liberation Sans, sans-serif" font-weight="bold">40</text>
<text x="143.9" y="195" font-size="3.0" text-anchor="middle" fill="#3a3a3a" font-family="Liberation Sans, sans-serif" font-weight="bold">65</text>
<text x="161.06" y="195" font-size="3.0" text-anchor="middle" fill="#3a3a3a" font-family="Liberation Sans, sans-serif" font-weight="bold">75</text>
<text x="178.22" y="195" font-size="3.0" text-anchor="middle" fill="#3a3a3a" font-family="Liberation Sans, sans-serif" font-weight="bold">85</text>
<text x="195.38" y="195" font-size="3.0" text-anchor="middle" fill="#3a3a3a" font-family="Liberation Sans, sans-serif" font-weight="bold">95</text>
<text x="212.54" y="195" font-size="3.0" text-anchor="middle" fill="#3a3a3a" font-family="Liberation Sans, sans-serif" font-weight="bold">105</text>
<text x="229.7" y="195" font-size="3.0" text-anchor="middle" fill="#3a3a3a" font-family="Liberation Sans, sans-serif" font-weight="bold">115</text>
<polyline points="143.9,171.5 161,171.5 166,175 176,190.2 178.5,190.2" fill="none" stroke="#FFCA3A" stroke-width="1.3" stroke-linejoin="round"/>
<path d="M178.5,190.2 C178.85,190.08 180.29,190.33 180.6,189.5 C181.48,187.17 182.5,180.28 183.8,176.2 C185.1,172.12 186.87,167.57 188.4,165 C189.68,162.86 191.47,161.6 193,160.8 C194.53,160 195.92,159.93 197.6,160.2 C199.28,160.47 201.27,161.72 203.1,162.4 C204.93,163.08 206.77,163.83 208.6,164.3 C210.43,164.77 212.2,165 214.1,165.2 C216,165.4 217.64,165.47 220,165.5 C224.03,165.55 235.25,165.5 238.3,165.5" fill="none" stroke="#FFCA3A" stroke-width="1.3"/>
<polyline points="143.9,171.5 161,171.5 162.5,174 163.5,172.5 165,176 174,190.4 184.6,190.4 199,152.3 208.8,152.3 213,171.5 216,165 218.7,165.5 238.3,165.5" fill="none" stroke="#34C98E" stroke-width="1.3" stroke-linejoin="round"/>
<polyline points="143.9,171.5 161.5,171.5 163,173 164.5,175.5 166,174.5 175,190.4 186,190.4 188.5,183.5 190,186 200.4,152.3 211,152.3 215.6,175 222,159.7 226.6,165.5 238.3,165.5" fill="none" stroke="#F5686A" stroke-width="1.3" stroke-linejoin="round"/>
<polyline points="143.9,171.5 161,171.5 162,176 163,173 172,190.4 191,190.4 203,152.3 220,152.3 225.3,178 230.5,161 234.5,165.5 238.3,165.5" fill="none" stroke="#C9A3D9" stroke-width="1.15" stroke-linejoin="round"/>
<polyline points="144.8,201.5 150.4,201.5" fill="none" stroke="#FFCA3A" stroke-width="1.4" stroke-linejoin="round"/>
<text x="151.2" y="202.5" font-size="3.0" text-anchor="start" fill="#404040" font-family="Liberation Sans, sans-serif">ONRAMP8</text>
<polyline points="167.4,201.5 173,201.5" fill="none" stroke="#34C98E" stroke-width="1.4" stroke-linejoin="round"/>
<text x="173.8" y="202.5" font-size="3.0" text-anchor="start" fill="#404040" font-family="Liberation Sans, sans-serif">ONRAMP9</text>
<polyline points="190.2,201.5 195.8,201.5" fill="none" stroke="#F5686A" stroke-width="1.4" stroke-linejoin="round"/>
<text x="196.6" y="202.5" font-size="3.0" text-anchor="start" fill="#404040" font-family="Liberation Sans, sans-serif">ONRAMP10</text>
<polyline points="214.3,201.5 219.9,201.5" fill="none" stroke="#C9A3D9" stroke-width="1.4" stroke-linejoin="round"/>
<text x="220.7" y="202.5" font-size="3.0" text-anchor="start" fill="#404040" font-family="Liberation Sans, sans-serif">ONRAMP11</text>
<text x="135.35" y="150.7" font-size="6.1" text-anchor="middle" fill="#222" stroke="#222" stroke-width="0.15" font-family="Liberation Serif, serif" transform="rotate(-90 135.35 150.7)">v(m/ s)</text>
<text x="243" y="189.6" font-size="6.4" letter-spacing="0.5" fill="#222" stroke="#222" stroke-width="0.2" font-family="Liberation Serif, serif"><tspan font-style="italic">t</tspan>(<tspan font-style="italic">s</tspan>)</text>
<text x="190" y="209.3" font-size="7.3" text-anchor="middle" fill="#222" stroke="#222" stroke-width="0.25" font-family="Liberation Serif, serif">(b&#8201;2)</text>
<line x1="270.5" y1="188" x2="364.5" y2="188" stroke="#EDEDED" stroke-width="0.5"/>
<line x1="270.5" y1="182.47" x2="364.5" y2="182.47" stroke="#EDEDED" stroke-width="0.5"/>
<line x1="270.5" y1="176.95" x2="364.5" y2="176.95" stroke="#EDEDED" stroke-width="0.5"/>
<line x1="270.5" y1="171.43" x2="364.5" y2="171.43" stroke="#EDEDED" stroke-width="0.5"/>
<line x1="270.5" y1="165.9" x2="364.5" y2="165.9" stroke="#EDEDED" stroke-width="0.5"/>
<line x1="270.5" y1="160.38" x2="364.5" y2="160.38" stroke="#EDEDED" stroke-width="0.5"/>
<line x1="270.5" y1="154.85" x2="364.5" y2="154.85" stroke="#EDEDED" stroke-width="0.5"/>
<line x1="270.5" y1="149.33" x2="364.5" y2="149.33" stroke="#EDEDED" stroke-width="0.5"/>
<line x1="270.5" y1="143.8" x2="364.5" y2="143.8" stroke="#EDEDED" stroke-width="0.5"/>
<line x1="270.2" y1="143.8" x2="270.2" y2="188" stroke="#EDEDED" stroke-width="0.5"/>
<line x1="287.26" y1="143.8" x2="287.26" y2="188" stroke="#EDEDED" stroke-width="0.5"/>
<line x1="304.32" y1="143.8" x2="304.32" y2="188" stroke="#EDEDED" stroke-width="0.5"/>
<line x1="321.38" y1="143.8" x2="321.38" y2="188" stroke="#EDEDED" stroke-width="0.5"/>
<line x1="338.44" y1="143.8" x2="338.44" y2="188" stroke="#EDEDED" stroke-width="0.5"/>
<line x1="355.5" y1="143.8" x2="355.5" y2="188" stroke="#EDEDED" stroke-width="0.5"/>
<line x1="364.5" y1="143.8" x2="364.5" y2="188" stroke="#EDEDED" stroke-width="0.5"/>
<text x="267.5" y="189.2" font-size="3.0" text-anchor="end" fill="#3a3a3a" font-family="Liberation Sans, sans-serif" font-weight="bold">0</text>
<text x="267.5" y="183.67" font-size="3.0" text-anchor="end" fill="#3a3a3a" font-family="Liberation Sans, sans-serif" font-weight="bold">5</text>
<text x="267.5" y="178.15" font-size="3.0" text-anchor="end" fill="#3a3a3a" font-family="Liberation Sans, sans-serif" font-weight="bold">10</text>
<text x="267.5" y="172.62" font-size="3.0" text-anchor="end" fill="#3a3a3a" font-family="Liberation Sans, sans-serif" font-weight="bold">15</text>
<text x="267.5" y="167.1" font-size="3.0" text-anchor="end" fill="#3a3a3a" font-family="Liberation Sans, sans-serif" font-weight="bold">20</text>
<text x="267.5" y="161.57" font-size="3.0" text-anchor="end" fill="#3a3a3a" font-family="Liberation Sans, sans-serif" font-weight="bold">25</text>
<text x="267.5" y="156.05" font-size="3.0" text-anchor="end" fill="#3a3a3a" font-family="Liberation Sans, sans-serif" font-weight="bold">30</text>
<text x="267.5" y="150.53" font-size="3.0" text-anchor="end" fill="#3a3a3a" font-family="Liberation Sans, sans-serif" font-weight="bold">35</text>
<text x="267.5" y="145" font-size="3.0" text-anchor="end" fill="#3a3a3a" font-family="Liberation Sans, sans-serif" font-weight="bold">40</text>
<text x="270.2" y="191.8" font-size="3.0" text-anchor="middle" fill="#3a3a3a" font-family="Liberation Sans, sans-serif" font-weight="bold">60</text>
<text x="287.26" y="191.8" font-size="3.0" text-anchor="middle" fill="#3a3a3a" font-family="Liberation Sans, sans-serif" font-weight="bold">70</text>
<text x="304.32" y="191.8" font-size="3.0" text-anchor="middle" fill="#3a3a3a" font-family="Liberation Sans, sans-serif" font-weight="bold">80</text>
<text x="321.38" y="191.8" font-size="3.0" text-anchor="middle" fill="#3a3a3a" font-family="Liberation Sans, sans-serif" font-weight="bold">90</text>
<text x="338.44" y="191.8" font-size="3.0" text-anchor="middle" fill="#3a3a3a" font-family="Liberation Sans, sans-serif" font-weight="bold">100</text>
<text x="355.5" y="191.8" font-size="3.0" text-anchor="middle" fill="#3a3a3a" font-family="Liberation Sans, sans-serif" font-weight="bold">110</text>
<polyline points="270.7,168.9 287.4,168.9 296,151 303.9,151 307.6,164.5" fill="none" stroke="#FFCA3A" stroke-width="1.3" stroke-linejoin="round"/>
<polyline points="292.3,168.9 295.2,163.1 361,163.1" fill="none" stroke="#34C98E" stroke-width="1.3" stroke-linejoin="round"/>
<polyline points="294.6,168.9 297.5,171.5 298.5,169.5 300,173 309,187.6 317.2,187.6 320,181 323,172 327,163 332.2,157.9 338,158.8 346.6,162.3 351,163.1" fill="none" stroke="#F5686A" stroke-width="1.3" stroke-linejoin="round"/>
<polyline points="270.7,168.9 294.6,168.9 297,172 299,171 307.7,187.6 322,187.6 333.6,151 343.7,151 348,170.3 351.8,161.7 354,163" fill="none" stroke="#C9A3D9" stroke-width="1.15" stroke-linejoin="round"/>
<polyline points="270.2,197.9 275.8,197.9" fill="none" stroke="#FFCA3A" stroke-width="1.4" stroke-linejoin="round"/>
<text x="276.6" y="198.9" font-size="3.0" text-anchor="start" fill="#404040" font-family="Liberation Sans, sans-serif">ONRAMP 3</text>
<polyline points="293.3,197.9 298.9,197.9" fill="none" stroke="#34C98E" stroke-width="1.4" stroke-linejoin="round"/>
<text x="299.7" y="198.9" font-size="3.0" text-anchor="start" fill="#404040" font-family="Liberation Sans, sans-serif">ONRAMP 6</text>
<polyline points="318.8,197.9 324.4,197.9" fill="none" stroke="#F5686A" stroke-width="1.4" stroke-linejoin="round"/>
<text x="325.2" y="198.9" font-size="3.0" text-anchor="start" fill="#404040" font-family="Liberation Sans, sans-serif">ONRAMP 9</text>
<polyline points="341.5,197.9 347.1,197.9" fill="none" stroke="#C9A3D9" stroke-width="1.4" stroke-linejoin="round"/>
<text x="347.9" y="198.9" font-size="3.0" text-anchor="start" fill="#404040" font-family="Liberation Sans, sans-serif">ONRAMP 10</text>
<text x="255.95" y="150" font-size="6.1" text-anchor="middle" fill="#222" stroke="#222" stroke-width="0.15" font-family="Liberation Serif, serif" transform="rotate(-90 255.95 150)">v(m/ s)</text>
<text x="365.9" y="192.8" font-size="6.4" letter-spacing="0.5" fill="#222" stroke="#222" stroke-width="0.2" font-family="Liberation Serif, serif"><tspan font-style="italic">t</tspan>(<tspan font-style="italic">s</tspan>)</text>
<text x="319" y="209" font-size="7.3" text-anchor="middle" fill="#222" stroke="#222" stroke-width="0.25" font-family="Liberation Serif, serif">(c&#8201;2)</text>
<line x1="23.9" y1="263.5" x2="117.7" y2="263.5" stroke="#EDEDED" stroke-width="0.5"/>
<line x1="23.9" y1="257.92" x2="117.7" y2="257.92" stroke="#EDEDED" stroke-width="0.5"/>
<line x1="23.9" y1="252.34" x2="117.7" y2="252.34" stroke="#EDEDED" stroke-width="0.5"/>
<line x1="23.9" y1="246.77" x2="117.7" y2="246.77" stroke="#EDEDED" stroke-width="0.5"/>
<line x1="23.9" y1="241.19" x2="117.7" y2="241.19" stroke="#EDEDED" stroke-width="0.5"/>
<line x1="23.9" y1="235.61" x2="117.7" y2="235.61" stroke="#EDEDED" stroke-width="0.5"/>
<line x1="23.9" y1="230.03" x2="117.7" y2="230.03" stroke="#EDEDED" stroke-width="0.5"/>
<line x1="23.9" y1="224.46" x2="117.7" y2="224.46" stroke="#EDEDED" stroke-width="0.5"/>
<line x1="23.9" y1="218.88" x2="117.7" y2="218.88" stroke="#EDEDED" stroke-width="0.5"/>
<line x1="23.9" y1="213.3" x2="117.7" y2="213.3" stroke="#EDEDED" stroke-width="0.5"/>
<line x1="24.4" y1="213.3" x2="24.4" y2="263.5" stroke="#EDEDED" stroke-width="0.5"/>
<line x1="45.17" y1="213.3" x2="45.17" y2="263.5" stroke="#EDEDED" stroke-width="0.5"/>
<line x1="65.95" y1="213.3" x2="65.95" y2="263.5" stroke="#EDEDED" stroke-width="0.5"/>
<line x1="86.72" y1="213.3" x2="86.72" y2="263.5" stroke="#EDEDED" stroke-width="0.5"/>
<line x1="107.5" y1="213.3" x2="107.5" y2="263.5" stroke="#EDEDED" stroke-width="0.5"/>
<line x1="117.7" y1="213.3" x2="117.7" y2="263.5" stroke="#EDEDED" stroke-width="0.5"/>
<text x="21.3" y="264.7" font-size="3.0" text-anchor="end" fill="#3a3a3a" font-family="Liberation Sans, sans-serif" font-weight="bold">-10</text>
<text x="21.3" y="259.12" font-size="3.0" text-anchor="end" fill="#3a3a3a" font-family="Liberation Sans, sans-serif" font-weight="bold">-8</text>
<text x="21.3" y="253.54" font-size="3.0" text-anchor="end" fill="#3a3a3a" font-family="Liberation Sans, sans-serif" font-weight="bold">-6</text>
<text x="21.3" y="247.97" font-size="3.0" text-anchor="end" fill="#3a3a3a" font-family="Liberation Sans, sans-serif" font-weight="bold">-4</text>
<text x="21.3" y="242.39" font-size="3.0" text-anchor="end" fill="#3a3a3a" font-family="Liberation Sans, sans-serif" font-weight="bold">-2</text>
<text x="21.3" y="236.81" font-size="3.0" text-anchor="end" fill="#3a3a3a" font-family="Liberation Sans, sans-serif" font-weight="bold">0</text>
<text x="21.3" y="231.23" font-size="3.0" text-anchor="end" fill="#3a3a3a" font-family="Liberation Sans, sans-serif" font-weight="bold">2</text>
<text x="21.3" y="225.66" font-size="3.0" text-anchor="end" fill="#3a3a3a" font-family="Liberation Sans, sans-serif" font-weight="bold">4</text>
<text x="21.3" y="220.08" font-size="3.0" text-anchor="end" fill="#3a3a3a" font-family="Liberation Sans, sans-serif" font-weight="bold">6</text>
<text x="21.3" y="214.5" font-size="3.0" text-anchor="end" fill="#3a3a3a" font-family="Liberation Sans, sans-serif" font-weight="bold">8</text>
<text x="24.4" y="239.6" font-size="3.0" text-anchor="middle" fill="#3a3a3a" font-family="Liberation Sans, sans-serif" font-weight="bold">70</text>
<text x="45.17" y="239.6" font-size="3.0" text-anchor="middle" fill="#3a3a3a" font-family="Liberation Sans, sans-serif" font-weight="bold">80</text>
<text x="65.95" y="239.6" font-size="3.0" text-anchor="middle" fill="#3a3a3a" font-family="Liberation Sans, sans-serif" font-weight="bold">90</text>
<text x="86.72" y="239.6" font-size="3.0" text-anchor="middle" fill="#3a3a3a" font-family="Liberation Sans, sans-serif" font-weight="bold">100</text>
<text x="107.5" y="239.6" font-size="3.0" text-anchor="middle" fill="#3a3a3a" font-family="Liberation Sans, sans-serif" font-weight="bold">110</text>
<polyline points="23.9,235.7 37.1,235.7 37.1,221.8 41.6,221.8 41.8,235.7 117.7,235.7" fill="none" stroke="#FFCA3A" stroke-width="1.2" stroke-linejoin="round"/>
<polyline points="42.3,235.7 43.4,258 45.2,223.9 46.5,236 47.5,244.1 49.5,244.1 49.7,221.8 58.6,221.8 59.6,258 61.7,258 62.8,235.7 117.7,235.7" fill="none" stroke="#34C98E" stroke-width="1.2" stroke-linejoin="round"/>
<polyline points="23.9,235.7 42.5,235.7 44,246 47,244.1 60.2,244.1 60.9,221.6 61.8,221.6 62.9,235.7 64.3,235.7 64.8,221.6 69.4,221.6 74.7,226.8 74.7,221.6 76.7,221.6 78,235.7 89.1,235.7 89.8,258 92.2,258 93,235.7 94.1,231.4 95.7,235.7 117.7,235.7" fill="none" stroke="#F5686A" stroke-width="1.2" stroke-linejoin="round"/>
<polyline points="23.9,235.7 42.3,235.7 42.8,257 44,240 47,244.1 75.3,244.1 76,221.6 93,234.7 95,235.7 117.7,235.7" fill="none" stroke="#C9A3D9" stroke-width="1.15" stroke-linejoin="round"/>
<polyline points="22.4,270 28,270" fill="none" stroke="#FFCA3A" stroke-width="1.4" stroke-linejoin="round"/>
<text x="28.8" y="271" font-size="3.0" text-anchor="start" fill="#404040" font-family="Liberation Sans, sans-serif">ONRAMP 6</text>
<polyline points="45.9,270 51.5,270" fill="none" stroke="#34C98E" stroke-width="1.4" stroke-linejoin="round"/>
<text x="52.3" y="271" font-size="3.0" text-anchor="start" fill="#404040" font-family="Liberation Sans, sans-serif">ONRAMP 7</text>
<polyline points="69.9,270 75.5,270" fill="none" stroke="#F5686A" stroke-width="1.4" stroke-linejoin="round"/>
<text x="76.3" y="271" font-size="3.0" text-anchor="start" fill="#404040" font-family="Liberation Sans, sans-serif">ONRAMP 8</text>
<polyline points="93,270 98.6,270" fill="none" stroke="#C9A3D9" stroke-width="1.4" stroke-linejoin="round"/>
<text x="99.4" y="271" font-size="3.0" text-anchor="start" fill="#404040" font-family="Liberation Sans, sans-serif">ONRAMP 11</text>
<text x="13.53" y="225" font-size="6.4" text-anchor="middle" fill="#222" stroke="#222" stroke-width="0.15" font-family="Liberation Serif, serif" transform="rotate(-90 13.53 225)"><tspan font-style="italic">a</tspan>(m/ s<tspan dy="-2.2" font-size="3.8">2</tspan><tspan dy="2.2">)</tspan></text>
<text x="118.7" y="262" font-size="6.4" letter-spacing="0.5" fill="#222" stroke="#222" stroke-width="0.2" font-family="Liberation Serif, serif"><tspan font-style="italic">t</tspan>(<tspan font-style="italic">s</tspan>)</text>
<text x="65.3" y="277.4" font-size="7.3" text-anchor="middle" fill="#222" stroke="#222" stroke-width="0.25" font-family="Liberation Serif, serif">(a&#8201;3)</text>
<line x1="144.2" y1="263.4" x2="239.8" y2="263.4" stroke="#EDEDED" stroke-width="0.5"/>
<line x1="144.2" y1="257.77" x2="239.8" y2="257.77" stroke="#EDEDED" stroke-width="0.5"/>
<line x1="144.2" y1="252.13" x2="239.8" y2="252.13" stroke="#EDEDED" stroke-width="0.5"/>
<line x1="144.2" y1="246.5" x2="239.8" y2="246.5" stroke="#EDEDED" stroke-width="0.5"/>
<line x1="144.2" y1="240.87" x2="239.8" y2="240.87" stroke="#EDEDED" stroke-width="0.5"/>
<line x1="144.2" y1="235.23" x2="239.8" y2="235.23" stroke="#EDEDED" stroke-width="0.5"/>
<line x1="144.2" y1="229.6" x2="239.8" y2="229.6" stroke="#EDEDED" stroke-width="0.5"/>
<line x1="144.2" y1="223.97" x2="239.8" y2="223.97" stroke="#EDEDED" stroke-width="0.5"/>
<line x1="144.2" y1="218.33" x2="239.8" y2="218.33" stroke="#EDEDED" stroke-width="0.5"/>
<line x1="144.2" y1="212.7" x2="239.8" y2="212.7" stroke="#EDEDED" stroke-width="0.5"/>
<line x1="144.5" y1="212.7" x2="144.5" y2="263.4" stroke="#EDEDED" stroke-width="0.5"/>
<line x1="161.66" y1="212.7" x2="161.66" y2="263.4" stroke="#EDEDED" stroke-width="0.5"/>
<line x1="178.82" y1="212.7" x2="178.82" y2="263.4" stroke="#EDEDED" stroke-width="0.5"/>
<line x1="195.98" y1="212.7" x2="195.98" y2="263.4" stroke="#EDEDED" stroke-width="0.5"/>
<line x1="213.14" y1="212.7" x2="213.14" y2="263.4" stroke="#EDEDED" stroke-width="0.5"/>
<line x1="230.3" y1="212.7" x2="230.3" y2="263.4" stroke="#EDEDED" stroke-width="0.5"/>
<line x1="239.8" y1="212.7" x2="239.8" y2="263.4" stroke="#EDEDED" stroke-width="0.5"/>
<text x="141.8" y="264.6" font-size="3.0" text-anchor="end" fill="#3a3a3a" font-family="Liberation Sans, sans-serif" font-weight="bold">-10</text>
<text x="141.8" y="258.97" font-size="3.0" text-anchor="end" fill="#3a3a3a" font-family="Liberation Sans, sans-serif" font-weight="bold">-8</text>
<text x="141.8" y="253.33" font-size="3.0" text-anchor="end" fill="#3a3a3a" font-family="Liberation Sans, sans-serif" font-weight="bold">-6</text>
<text x="141.8" y="247.7" font-size="3.0" text-anchor="end" fill="#3a3a3a" font-family="Liberation Sans, sans-serif" font-weight="bold">-4</text>
<text x="141.8" y="242.07" font-size="3.0" text-anchor="end" fill="#3a3a3a" font-family="Liberation Sans, sans-serif" font-weight="bold">-2</text>
<text x="141.8" y="236.43" font-size="3.0" text-anchor="end" fill="#3a3a3a" font-family="Liberation Sans, sans-serif" font-weight="bold">0</text>
<text x="141.8" y="230.8" font-size="3.0" text-anchor="end" fill="#3a3a3a" font-family="Liberation Sans, sans-serif" font-weight="bold">2</text>
<text x="141.8" y="225.17" font-size="3.0" text-anchor="end" fill="#3a3a3a" font-family="Liberation Sans, sans-serif" font-weight="bold">4</text>
<text x="141.8" y="219.53" font-size="3.0" text-anchor="end" fill="#3a3a3a" font-family="Liberation Sans, sans-serif" font-weight="bold">6</text>
<text x="141.8" y="213.9" font-size="3.0" text-anchor="end" fill="#3a3a3a" font-family="Liberation Sans, sans-serif" font-weight="bold">8</text>
<text x="144.5" y="239" font-size="3.0" text-anchor="middle" fill="#3a3a3a" font-family="Liberation Sans, sans-serif" font-weight="bold">65</text>
<text x="161.66" y="239" font-size="3.0" text-anchor="middle" fill="#3a3a3a" font-family="Liberation Sans, sans-serif" font-weight="bold">75</text>
<text x="178.82" y="239" font-size="3.0" text-anchor="middle" fill="#3a3a3a" font-family="Liberation Sans, sans-serif" font-weight="bold">85</text>
<text x="195.98" y="239" font-size="3.0" text-anchor="middle" fill="#3a3a3a" font-family="Liberation Sans, sans-serif" font-weight="bold">95</text>
<text x="213.14" y="239" font-size="3.0" text-anchor="middle" fill="#3a3a3a" font-family="Liberation Sans, sans-serif" font-weight="bold">105</text>
<text x="230.3" y="239" font-size="3.0" text-anchor="middle" fill="#3a3a3a" font-family="Liberation Sans, sans-serif" font-weight="bold">115</text>
<polyline points="144.2,235.1 165.5,235.1 166,257.5 166.5,257.5 167,221.2 168.6,221.2 169.2,243.6 174.5,243.6 175.7,235.1 176.8,247.4 177.5,235.1 180.4,235.1 180.5,221 184.6,221 185.6,222.3 186.8,224.2 189,227.2 191,230.5 192.5,232.4 194.1,233.8 196,234.9 198,235.6 203,236.4 210,236.6 215,235.6 220,235.1 238.9,235.1" fill="none" stroke="#FFCA3A" stroke-width="1.2" stroke-linejoin="round"/>
<polyline points="144.2,235.1 162.5,235.1 163.2,257.5 163.8,257.5 164.4,243.6 188.2,243.6 188.9,221.2 201,221.2 201,235.1 209.2,235.1 209.2,257.2 212.7,257.2 214.5,221 216.3,235.1 238.9,235.1" fill="none" stroke="#34C98E" stroke-width="1.2" stroke-linejoin="round"/>
<polyline points="144.2,235.1 163.5,235.1 163.9,257.5 164.6,257.5 165.4,223.2 166.2,223.2 167.5,243.6 169,243.6 170,235.1 174.5,235.1 175,241.5 175.7,235.1 186.3,235.1 186.3,221.2 187.3,221.2 188.9,243.6 191,221.2 192.6,221.2 193.3,235.1 200.4,235.1 200.4,221.2 204.4,221.2 204.4,235.1 211,235.1 211,257.2 216.3,257.2 216.8,221 220.4,221 221,235.1 223.3,251.2 225,235.1 238.9,235.1" fill="none" stroke="#F5686A" stroke-width="1.2" stroke-linejoin="round"/>
<polyline points="144.2,235.1 161.5,235.1 162.1,257.5 162.8,257.5 164,235.1 174.3,235.1 174.5,252 175,235.1 192.8,235.1 193.2,221.2 204.6,221.2 204.6,235.1 221,235.1 221,257.2 226.3,257.2 226.3,221 230.4,221 231.5,243.9 232.8,235.1 238.9,235.1" fill="none" stroke="#C9A3D9" stroke-width="1.15" stroke-linejoin="round"/>
<polyline points="145,269.1 150.6,269.1" fill="none" stroke="#FFCA3A" stroke-width="1.4" stroke-linejoin="round"/>
<text x="151.4" y="270.1" font-size="3.0" text-anchor="start" fill="#404040" font-family="Liberation Sans, sans-serif">ONRAMP8</text>
<polyline points="166.9,269.1 172.5,269.1" fill="none" stroke="#34C98E" stroke-width="1.4" stroke-linejoin="round"/>
<text x="173.3" y="270.1" font-size="3.0" text-anchor="start" fill="#404040" font-family="Liberation Sans, sans-serif">ONRAMP9</text>
<polyline points="190.2,269.1 195.8,269.1" fill="none" stroke="#F5686A" stroke-width="1.4" stroke-linejoin="round"/>
<text x="196.6" y="270.1" font-size="3.0" text-anchor="start" fill="#404040" font-family="Liberation Sans, sans-serif">ONRAMP10</text>
<polyline points="213.8,269.1 219.4,269.1" fill="none" stroke="#C9A3D9" stroke-width="1.4" stroke-linejoin="round"/>
<text x="220.2" y="270.1" font-size="3.0" text-anchor="start" fill="#404040" font-family="Liberation Sans, sans-serif">ONRAMP11</text>
<text x="135.03" y="220.7" font-size="6.4" text-anchor="middle" fill="#222" stroke="#222" stroke-width="0.15" font-family="Liberation Serif, serif" transform="rotate(-90 135.03 220.7)"><tspan font-style="italic">a</tspan>(m/ s<tspan dy="-2.2" font-size="3.8">2</tspan><tspan dy="2.2">)</tspan></text>
<text x="243" y="263" font-size="6.4" letter-spacing="0.5" fill="#222" stroke="#222" stroke-width="0.2" font-family="Liberation Serif, serif"><tspan font-style="italic">t</tspan>(<tspan font-style="italic">s</tspan>)</text>
<text x="190.7" y="277.2" font-size="7.3" text-anchor="middle" fill="#222" stroke="#222" stroke-width="0.25" font-family="Liberation Serif, serif">(b&#8201;3)</text>
<line x1="269.9" y1="261.9" x2="364.6" y2="261.9" stroke="#EDEDED" stroke-width="0.5"/>
<line x1="269.9" y1="256.37" x2="364.6" y2="256.37" stroke="#EDEDED" stroke-width="0.5"/>
<line x1="269.9" y1="250.83" x2="364.6" y2="250.83" stroke="#EDEDED" stroke-width="0.5"/>
<line x1="269.9" y1="245.3" x2="364.6" y2="245.3" stroke="#EDEDED" stroke-width="0.5"/>
<line x1="269.9" y1="239.77" x2="364.6" y2="239.77" stroke="#EDEDED" stroke-width="0.5"/>
<line x1="269.9" y1="234.23" x2="364.6" y2="234.23" stroke="#EDEDED" stroke-width="0.5"/>
<line x1="269.9" y1="228.7" x2="364.6" y2="228.7" stroke="#EDEDED" stroke-width="0.5"/>
<line x1="269.9" y1="223.17" x2="364.6" y2="223.17" stroke="#EDEDED" stroke-width="0.5"/>
<line x1="269.9" y1="217.63" x2="364.6" y2="217.63" stroke="#EDEDED" stroke-width="0.5"/>
<line x1="269.9" y1="212.1" x2="364.6" y2="212.1" stroke="#EDEDED" stroke-width="0.5"/>
<line x1="270.2" y1="212.1" x2="270.2" y2="261.9" stroke="#EDEDED" stroke-width="0.5"/>
<line x1="287.92" y1="212.1" x2="287.92" y2="261.9" stroke="#EDEDED" stroke-width="0.5"/>
<line x1="305.64" y1="212.1" x2="305.64" y2="261.9" stroke="#EDEDED" stroke-width="0.5"/>
<line x1="323.36" y1="212.1" x2="323.36" y2="261.9" stroke="#EDEDED" stroke-width="0.5"/>
<line x1="341.08" y1="212.1" x2="341.08" y2="261.9" stroke="#EDEDED" stroke-width="0.5"/>
<line x1="358.8" y1="212.1" x2="358.8" y2="261.9" stroke="#EDEDED" stroke-width="0.5"/>
<line x1="364.6" y1="212.1" x2="364.6" y2="261.9" stroke="#EDEDED" stroke-width="0.5"/>
<text x="267.3" y="263.1" font-size="3.0" text-anchor="end" fill="#3a3a3a" font-family="Liberation Sans, sans-serif" font-weight="bold">-10</text>
<text x="267.3" y="257.57" font-size="3.0" text-anchor="end" fill="#3a3a3a" font-family="Liberation Sans, sans-serif" font-weight="bold">-8</text>
<text x="267.3" y="252.03" font-size="3.0" text-anchor="end" fill="#3a3a3a" font-family="Liberation Sans, sans-serif" font-weight="bold">-6</text>
<text x="267.3" y="246.5" font-size="3.0" text-anchor="end" fill="#3a3a3a" font-family="Liberation Sans, sans-serif" font-weight="bold">-4</text>
<text x="267.3" y="240.97" font-size="3.0" text-anchor="end" fill="#3a3a3a" font-family="Liberation Sans, sans-serif" font-weight="bold">-2</text>
<text x="267.3" y="235.43" font-size="3.0" text-anchor="end" fill="#3a3a3a" font-family="Liberation Sans, sans-serif" font-weight="bold">0</text>
<text x="267.3" y="229.9" font-size="3.0" text-anchor="end" fill="#3a3a3a" font-family="Liberation Sans, sans-serif" font-weight="bold">2</text>
<text x="267.3" y="224.37" font-size="3.0" text-anchor="end" fill="#3a3a3a" font-family="Liberation Sans, sans-serif" font-weight="bold">4</text>
<text x="267.3" y="218.83" font-size="3.0" text-anchor="end" fill="#3a3a3a" font-family="Liberation Sans, sans-serif" font-weight="bold">6</text>
<text x="267.3" y="213.3" font-size="3.0" text-anchor="end" fill="#3a3a3a" font-family="Liberation Sans, sans-serif" font-weight="bold">8</text>
<text x="270.2" y="238" font-size="3.0" text-anchor="middle" fill="#3a3a3a" font-family="Liberation Sans, sans-serif" font-weight="bold">60</text>
<text x="287.92" y="238" font-size="3.0" text-anchor="middle" fill="#3a3a3a" font-family="Liberation Sans, sans-serif" font-weight="bold">70</text>
<text x="305.64" y="238" font-size="3.0" text-anchor="middle" fill="#3a3a3a" font-family="Liberation Sans, sans-serif" font-weight="bold">80</text>
<text x="323.36" y="238" font-size="3.0" text-anchor="middle" fill="#3a3a3a" font-family="Liberation Sans, sans-serif" font-weight="bold">90</text>
<text x="341.08" y="238" font-size="3.0" text-anchor="middle" fill="#3a3a3a" font-family="Liberation Sans, sans-serif" font-weight="bold">100</text>
<text x="358.8" y="238" font-size="3.0" text-anchor="middle" fill="#3a3a3a" font-family="Liberation Sans, sans-serif" font-weight="bold">110</text>
<polyline points="268.5,234.1 287.7,234.1 287.7,225.6 296.5,225.6 297.7,234.1 305,234.1 305.4,256.6 308.3,256.6 310.1,228 311.9,234.1 364.6,234.1" fill="none" stroke="#FFCA3A" stroke-width="1.2" stroke-linejoin="round"/>
<polyline points="268.5,234.1 293,234.1 293.6,241 294.2,220.3 295.5,220.3 296.5,234.1 364.6,234.1" fill="none" stroke="#34C98E" stroke-width="1.2" stroke-linejoin="round"/>
<polyline points="297.8,234.1 298.3,256.6 299.5,256.6 300.7,222.6 301.2,222.6 304.2,243.6 309.5,243.6 311.3,241.5 312.5,234.1 319.6,234.1 319.6,220.5 323.5,220.5 326,224.5 329,228.5 332,231.3 335,233 339.3,234.3 344,235.3 349,235.6 354,235 358.3,234.1 364.6,234.1" fill="none" stroke="#F5686A" stroke-width="1.2" stroke-linejoin="round"/>
<polyline points="268.5,234.1 296.8,234.1 297.3,255.5 298,255.5 299.5,231 301.8,228.5 303,234.1 309.5,234.1 310.1,251 310.8,234.1 325.2,234.1 325.2,220.5 338,220.5 338,234.1 347.2,234.1 347.2,256.6 351.7,256.6 352.4,220.5 354.4,220.5 356.3,238.2 358.3,234.1 364.6,234.1" fill="none" stroke="#C9A3D9" stroke-width="1.15" stroke-linejoin="round"/>
<polyline points="269.3,268.6 274.9,268.6" fill="none" stroke="#FFCA3A" stroke-width="1.4" stroke-linejoin="round"/>
<text x="275.7" y="269.6" font-size="3.0" text-anchor="start" fill="#404040" font-family="Liberation Sans, sans-serif">ONRAMP 3</text>
<polyline points="292.4,268.6 298,268.6" fill="none" stroke="#34C98E" stroke-width="1.4" stroke-linejoin="round"/>
<text x="298.8" y="269.6" font-size="3.0" text-anchor="start" fill="#404040" font-family="Liberation Sans, sans-serif">ONRAMP 6</text>
<polyline points="317.8,268.6 323.4,268.6" fill="none" stroke="#F5686A" stroke-width="1.4" stroke-linejoin="round"/>
<text x="324.2" y="269.6" font-size="3.0" text-anchor="start" fill="#404040" font-family="Liberation Sans, sans-serif">ONRAMP 9</text>
<polyline points="342.2,268.6 347.8,268.6" fill="none" stroke="#C9A3D9" stroke-width="1.4" stroke-linejoin="round"/>
<text x="348.6" y="269.6" font-size="3.0" text-anchor="start" fill="#404040" font-family="Liberation Sans, sans-serif">ONRAMP 10</text>
<text x="257.63" y="222.7" font-size="6.4" text-anchor="middle" fill="#222" stroke="#222" stroke-width="0.15" font-family="Liberation Serif, serif" transform="rotate(-90 257.63 222.7)"><tspan font-style="italic">a</tspan>(m/ s<tspan dy="-2.2" font-size="3.8">2</tspan><tspan dy="2.2">)</tspan></text>
<text x="367.5" y="265.5" font-size="6.4" letter-spacing="0.5" fill="#222" stroke="#222" stroke-width="0.2" font-family="Liberation Serif, serif"><tspan font-style="italic">t</tspan>(<tspan font-style="italic">s</tspan>)</text>
<text x="318.6" y="277.2" font-size="7.3" text-anchor="middle" fill="#222" stroke="#222" stroke-width="0.25" font-family="Liberation Serif, serif">(c&#8201;3)</text>
<rect x="22.2" y="354.9" width="94.9" height="16.8" fill="#E2E2E2"/>
<line x1="22.2" y1="402.9" x2="117.1" y2="402.9" stroke="#DDDDDD" stroke-width="0.5"/>
<line x1="22.2" y1="385.09" x2="117.1" y2="385.09" stroke="#DDDDDD" stroke-width="0.5"/>
<line x1="22.2" y1="367.27" x2="117.1" y2="367.27" stroke="#DDDDDD" stroke-width="0.5"/>
<line x1="22.2" y1="349.46" x2="117.1" y2="349.46" stroke="#DDDDDD" stroke-width="0.5"/>
<line x1="22.2" y1="331.64" x2="117.1" y2="331.64" stroke="#DDDDDD" stroke-width="0.5"/>
<line x1="22.2" y1="313.83" x2="117.1" y2="313.83" stroke="#DDDDDD" stroke-width="0.5"/>
<line x1="22.2" y1="296.01" x2="117.1" y2="296.01" stroke="#DDDDDD" stroke-width="0.5"/>
<line x1="22.2" y1="278.2" x2="117.1" y2="278.2" stroke="#DDDDDD" stroke-width="0.5"/>
<line x1="22.3" y1="278.2" x2="22.3" y2="402.9" stroke="#DDDDDD" stroke-width="0.5"/>
<line x1="40.36" y1="278.2" x2="40.36" y2="402.9" stroke="#DDDDDD" stroke-width="0.5"/>
<line x1="58.42" y1="278.2" x2="58.42" y2="402.9" stroke="#DDDDDD" stroke-width="0.5"/>
<line x1="76.48" y1="278.2" x2="76.48" y2="402.9" stroke="#DDDDDD" stroke-width="0.5"/>
<line x1="94.54" y1="278.2" x2="94.54" y2="402.9" stroke="#DDDDDD" stroke-width="0.5"/>
<line x1="112.6" y1="278.2" x2="112.6" y2="402.9" stroke="#DDDDDD" stroke-width="0.5"/>
<line x1="117.1" y1="278.2" x2="117.1" y2="402.9" stroke="#DDDDDD" stroke-width="0.5"/>
<text x="19.4" y="404.1" font-size="3.3" text-anchor="end" fill="#3a3a3a" font-family="Liberation Sans, sans-serif" font-weight="bold">600</text>
<text x="19.4" y="386.29" font-size="3.3" text-anchor="end" fill="#3a3a3a" font-family="Liberation Sans, sans-serif" font-weight="bold">800</text>
<text x="19.4" y="368.47" font-size="3.3" text-anchor="end" fill="#3a3a3a" font-family="Liberation Sans, sans-serif" font-weight="bold">1000</text>
<text x="19.4" y="350.66" font-size="3.3" text-anchor="end" fill="#3a3a3a" font-family="Liberation Sans, sans-serif" font-weight="bold">1200</text>
<text x="19.4" y="332.84" font-size="3.3" text-anchor="end" fill="#3a3a3a" font-family="Liberation Sans, sans-serif" font-weight="bold">1400</text>
<text x="19.4" y="315.03" font-size="3.3" text-anchor="end" fill="#3a3a3a" font-family="Liberation Sans, sans-serif" font-weight="bold">1600</text>
<text x="19.4" y="297.21" font-size="3.3" text-anchor="end" fill="#3a3a3a" font-family="Liberation Sans, sans-serif" font-weight="bold">1800</text>
<text x="19.4" y="279.4" font-size="3.3" text-anchor="end" fill="#3a3a3a" font-family="Liberation Sans, sans-serif" font-weight="bold">2000</text>
<text x="22.3" y="410" font-size="3.3" text-anchor="middle" fill="#3a3a3a" font-family="Liberation Sans, sans-serif" font-weight="bold">60</text>
<text x="40.36" y="410" font-size="3.3" text-anchor="middle" fill="#3a3a3a" font-family="Liberation Sans, sans-serif" font-weight="bold">70</text>
<text x="58.42" y="410" font-size="3.3" text-anchor="middle" fill="#3a3a3a" font-family="Liberation Sans, sans-serif" font-weight="bold">80</text>
<text x="76.48" y="410" font-size="3.3" text-anchor="middle" fill="#3a3a3a" font-family="Liberation Sans, sans-serif" font-weight="bold">90</text>
<text x="94.54" y="410" font-size="3.3" text-anchor="middle" fill="#3a3a3a" font-family="Liberation Sans, sans-serif" font-weight="bold">100</text>
<text x="112.6" y="410" font-size="3.3" text-anchor="middle" fill="#3a3a3a" font-family="Liberation Sans, sans-serif" font-weight="bold">110</text>
<polyline points="22.4,382 40,364 60,339.3 116.7,280.2" fill="none" stroke="#9DC0E8" stroke-width="1.15" stroke-dasharray="1.6,1.4" stroke-linejoin="round"/>
<polyline points="22.4,395 56.2,358.3 80,336 116.7,291.5" fill="none" stroke="#9DC0E8" stroke-width="1.15" stroke-dasharray="1.6,1.4" stroke-linejoin="round"/>
<polyline points="22.4,396.1 64.7,350 116.7,297.6" fill="none" stroke="#7F9FD6" stroke-width="1.5" stroke-dasharray="1,1" stroke-linejoin="round"/>
<polyline points="29.4,396.9 76.5,350 116.7,308.6" fill="none" stroke="#C49A50" stroke-width="1.15" stroke-dasharray="1.6,1.4" stroke-linejoin="round"/>
<path d="M22.4,389.8 C25.93,387.05 38.75,376.83 43.6,373.3 C46.57,371.13 49.13,369.92 51.5,368.6 C53.87,367.28 55.97,367.12 57.8,365.4 C59.63,363.68 60.21,360.82 62.5,358.3 C64.83,355.73 68.88,352.75 71.8,350 C74.72,347.25 76.8,345.15 80,341.8 C87.48,333.97 110.58,309.47 116.7,303" fill="none" stroke="#C9A3D9" stroke-width="1.2"/>
<path d="M22.4,391.4 C25.93,388.38 37.43,378.68 43.6,373.3 C49.77,367.92 55.22,362.98 59.4,359.1 C63.21,355.56 65.27,353.28 68.7,350 C72.13,346.72 75.68,343.84 80,339.4 C88,331.18 110.58,307.15 116.7,300.7" fill="none" stroke="#F5686A" stroke-width="1.4"/>
<path d="M22.4,388.3 C25.42,386.2 36.7,378.58 40.5,375.7 C42.62,374.09 43.79,373.26 45.2,371 C47.17,367.85 50.47,360.35 52.3,356.8 C53.79,353.92 54.92,351.57 56.2,349.7 C57.47,347.86 58.48,347.24 60,345.6 C69.08,335.78 102.25,299.93 110.7,290.8" fill="none" stroke="#34C98E" stroke-width="1.4"/>
<path d="M22.4,385.9 C25.15,384.07 35.23,377.65 38.9,374.9 C41.39,373.03 42.7,372.01 44.4,369.4 C46.37,366.38 48.73,360.22 50.7,356.8 C52.62,353.46 54.65,350.92 56.2,348.9 C57.58,347.1 58.48,346.38 60,344.7 C69.3,334.38 103.33,296.62 112,287" fill="none" stroke="#FFCA3A" stroke-width="1.4"/>
<polyline points="27.9,283.9 37.1,283.9" fill="none" stroke="#9DC0E8" stroke-width="1.1" stroke-dasharray="1.6,1.4" stroke-linejoin="round"/>
<text x="37.9" y="285.1" font-size="3.4" text-anchor="start" fill="#404040" font-family="Liberation Sans, sans-serif">ACC 2</text>
<polyline points="27.9,292.53 37.1,292.53" fill="none" stroke="#FFCA3A" stroke-width="1.5" stroke-linejoin="round"/>
<text x="37.9" y="293.73" font-size="3.4" text-anchor="start" fill="#404040" font-family="Liberation Sans, sans-serif">ONRAMP 3</text>
<polyline points="27.9,301.16 37.1,301.16" fill="none" stroke="#34C98E" stroke-width="1.5" stroke-linejoin="round"/>
<text x="37.9" y="302.36" font-size="3.4" text-anchor="start" fill="#404040" font-family="Liberation Sans, sans-serif">ONRAMP 4</text>
<polyline points="27.9,309.79 37.1,309.79" fill="none" stroke="#9DC0E8" stroke-width="1.1" stroke-dasharray="1.6,1.4" stroke-linejoin="round"/>
<text x="37.9" y="310.99" font-size="3.4" text-anchor="start" fill="#404040" font-family="Liberation Sans, sans-serif">IDM 5</text>
<polyline points="27.9,318.42 37.1,318.42" fill="none" stroke="#7F9FD6" stroke-width="1.1" stroke-dasharray="1.6,1.4" stroke-linejoin="round"/>
<text x="37.9" y="319.62" font-size="3.4" text-anchor="start" fill="#404040" font-family="Liberation Sans, sans-serif">ACC 7</text>
<polyline points="27.9,327.05 37.1,327.05" fill="none" stroke="#F5686A" stroke-width="1.5" stroke-linejoin="round"/>
<text x="37.9" y="328.25" font-size="3.4" text-anchor="start" fill="#404040" font-family="Liberation Sans, sans-serif">ONRAMP 8</text>
<polyline points="27.9,335.68 37.1,335.68" fill="none" stroke="#C9A3D9" stroke-width="1.5" stroke-linejoin="round"/>
<text x="37.9" y="336.88" font-size="3.4" text-anchor="start" fill="#404040" font-family="Liberation Sans, sans-serif">ONRAMP 9</text>
<polyline points="27.9,344.31 37.1,344.31" fill="none" stroke="#C49A50" stroke-width="1.1" stroke-dasharray="1.6,1.4" stroke-linejoin="round"/>
<text x="37.9" y="345.51" font-size="3.4" text-anchor="start" fill="#404040" font-family="Liberation Sans, sans-serif">IDM 10</text>
<text x="6.92" y="284.4" font-size="6.2" text-anchor="middle" fill="#222" stroke="#222" stroke-width="0.15" font-family="Liberation Serif, serif" transform="rotate(-90 6.92 284.4)"><tspan font-style="italic">x</tspan>(m)</text>
<text x="118.7" y="403" font-size="6.4" letter-spacing="0.5" fill="#222" stroke="#222" stroke-width="0.2" font-family="Liberation Serif, serif"><tspan font-style="italic">t</tspan>(<tspan font-style="italic">s</tspan>)</text>
<text x="66" y="416.8" font-size="7.3" text-anchor="middle" fill="#222" stroke="#222" stroke-width="0.25" font-family="Liberation Serif, serif">(d&#8201;1)</text>
<rect x="144" y="362" width="95.4" height="15.4" fill="#E2E2E2"/>
<line x1="144" y1="403.9" x2="239.4" y2="403.9" stroke="#DDDDDD" stroke-width="0.5"/>
<line x1="144" y1="388.35" x2="239.4" y2="388.35" stroke="#DDDDDD" stroke-width="0.5"/>
<line x1="144" y1="372.8" x2="239.4" y2="372.8" stroke="#DDDDDD" stroke-width="0.5"/>
<line x1="144" y1="357.25" x2="239.4" y2="357.25" stroke="#DDDDDD" stroke-width="0.5"/>
<line x1="144" y1="341.7" x2="239.4" y2="341.7" stroke="#DDDDDD" stroke-width="0.5"/>
<line x1="144" y1="326.15" x2="239.4" y2="326.15" stroke="#DDDDDD" stroke-width="0.5"/>
<line x1="144" y1="310.6" x2="239.4" y2="310.6" stroke="#DDDDDD" stroke-width="0.5"/>
<line x1="144" y1="295.05" x2="239.4" y2="295.05" stroke="#DDDDDD" stroke-width="0.5"/>
<line x1="144" y1="279.5" x2="239.4" y2="279.5" stroke="#DDDDDD" stroke-width="0.5"/>
<line x1="144" y1="279.5" x2="144" y2="403.9" stroke="#DDDDDD" stroke-width="0.5"/>
<line x1="162.24" y1="279.5" x2="162.24" y2="403.9" stroke="#DDDDDD" stroke-width="0.5"/>
<line x1="180.48" y1="279.5" x2="180.48" y2="403.9" stroke="#DDDDDD" stroke-width="0.5"/>
<line x1="198.72" y1="279.5" x2="198.72" y2="403.9" stroke="#DDDDDD" stroke-width="0.5"/>
<line x1="216.96" y1="279.5" x2="216.96" y2="403.9" stroke="#DDDDDD" stroke-width="0.5"/>
<line x1="235.2" y1="279.5" x2="235.2" y2="403.9" stroke="#DDDDDD" stroke-width="0.5"/>
<line x1="239.4" y1="279.5" x2="239.4" y2="403.9" stroke="#DDDDDD" stroke-width="0.5"/>
<text x="141" y="405.1" font-size="3.3" text-anchor="end" fill="#3a3a3a" font-family="Liberation Sans, sans-serif" font-weight="bold">600</text>
<text x="141" y="389.55" font-size="3.3" text-anchor="end" fill="#3a3a3a" font-family="Liberation Sans, sans-serif" font-weight="bold">800</text>
<text x="141" y="374" font-size="3.3" text-anchor="end" fill="#3a3a3a" font-family="Liberation Sans, sans-serif" font-weight="bold">1000</text>
<text x="141" y="358.45" font-size="3.3" text-anchor="end" fill="#3a3a3a" font-family="Liberation Sans, sans-serif" font-weight="bold">1200</text>
<text x="141" y="342.9" font-size="3.3" text-anchor="end" fill="#3a3a3a" font-family="Liberation Sans, sans-serif" font-weight="bold">1400</text>
<text x="141" y="327.35" font-size="3.3" text-anchor="end" fill="#3a3a3a" font-family="Liberation Sans, sans-serif" font-weight="bold">1600</text>
<text x="141" y="311.8" font-size="3.3" text-anchor="end" fill="#3a3a3a" font-family="Liberation Sans, sans-serif" font-weight="bold">1800</text>
<text x="141" y="296.25" font-size="3.3" text-anchor="end" fill="#3a3a3a" font-family="Liberation Sans, sans-serif" font-weight="bold">2000</text>
<text x="141" y="280.7" font-size="3.3" text-anchor="end" fill="#3a3a3a" font-family="Liberation Sans, sans-serif" font-weight="bold">2200</text>
<text x="144" y="409.8" font-size="3.3" text-anchor="middle" fill="#3a3a3a" font-family="Liberation Sans, sans-serif" font-weight="bold">60</text>
<text x="162.24" y="409.8" font-size="3.3" text-anchor="middle" fill="#3a3a3a" font-family="Liberation Sans, sans-serif" font-weight="bold">70</text>
<text x="180.48" y="409.8" font-size="3.3" text-anchor="middle" fill="#3a3a3a" font-family="Liberation Sans, sans-serif" font-weight="bold">80</text>
<text x="198.72" y="409.8" font-size="3.3" text-anchor="middle" fill="#3a3a3a" font-family="Liberation Sans, sans-serif" font-weight="bold">90</text>
<text x="216.96" y="409.8" font-size="3.3" text-anchor="middle" fill="#3a3a3a" font-family="Liberation Sans, sans-serif" font-weight="bold">100</text>
<text x="235.2" y="409.8" font-size="3.3" text-anchor="middle" fill="#3a3a3a" font-family="Liberation Sans, sans-serif" font-weight="bold">110</text>
<polyline points="144,383 195,336 239.4,299" fill="none" stroke="#9DC0E8" stroke-width="1.15" stroke-dasharray="1.6,1.4" stroke-linejoin="round"/>
<polyline points="151,389 195,348 239.4,305" fill="none" stroke="#9DC0E8" stroke-width="1.15" stroke-dasharray="1.6,1.4" stroke-linejoin="round"/>
<polyline points="159.2,397.5 195,364 239.4,323" fill="none" stroke="#7D97CC" stroke-width="1.15" stroke-dasharray="1.6,1.4" stroke-linejoin="round"/>
<polyline points="173.6,397.5 195,377.1 239.4,339" fill="none" stroke="#6A7BA0" stroke-width="1.15" stroke-dasharray="1.6,1.4" stroke-linejoin="round"/>
<path d="M144,392 C147.02,389.92 157.43,383 162.1,379.5 C166.28,376.37 168.95,373 172,371 C175.04,369 177.77,368.23 180.4,367.5 C183.03,366.77 185,366.78 187.8,366.6 C190.6,366.42 194.07,366.5 197.2,366.4 C200.33,366.3 203.82,367.13 206.6,366 C209.38,364.87 211.41,362.58 213.9,359.6 C216.82,356.12 221.18,348.85 224.1,345.1 C226.76,341.68 228.85,339.7 231.4,337.1 C233.95,334.5 238.07,330.77 239.4,329.5" fill="none" stroke="#C9A3D9" stroke-width="1.2"/>
<path d="M144,392.5 C147.02,390.42 157.43,383.58 162.1,380 C166.34,376.74 168.95,373.05 172,371 C175,368.99 177.77,368.4 180.4,367.7 C183.03,367 185.03,366.88 187.8,366.8 C190.57,366.72 194.35,367.55 197,367.2 C199.65,366.85 201.58,366.62 203.7,364.7 C206.03,362.58 207.5,358.1 211,354.5 C216.95,348.38 234.67,332.42 239.4,328" fill="none" stroke="#F5686A" stroke-width="1.4"/>
<path d="M144,394.3 C147.02,392.25 157.43,385.38 162.1,382 C166.22,379.01 168.95,376.08 172,374 C175.05,371.92 177.77,370.55 180.4,369.5 C183.03,368.45 185.37,368.13 187.8,367.7 C190.23,367.27 192.35,368 195,366.9 C197.65,365.8 200.62,363.93 203.7,361.1 C211.1,354.28 233.45,331.85 239.4,326" fill="none" stroke="#34C98E" stroke-width="1.4"/>
<path d="M144,390.7 C147.02,388.7 157.77,382.15 162.1,378.7 C165.78,375.77 167.85,372.7 170,370 C172.15,367.3 173.33,364.87 175,362.5 C176.67,360.13 178.17,358.05 180,355.8 C181.83,353.55 183.83,351.27 186,349 C188.17,346.73 190.16,344.87 193,342.2 C200.57,335.08 225,312.28 231.4,306.3" fill="none" stroke="#FFCA3A" stroke-width="1.4"/>
<polyline points="146.6,285 156.8,285" fill="none" stroke="#9DC0E8" stroke-width="1.1" stroke-dasharray="1.6,1.4" stroke-linejoin="round"/>
<text x="157.6" y="286.2" font-size="3.9" text-anchor="start" fill="#404040" font-family="Liberation Sans, sans-serif">ACC 2</text>
<polyline points="146.6,294.59 156.8,294.59" fill="none" stroke="#FFCA3A" stroke-width="1.5" stroke-linejoin="round"/>
<text x="157.6" y="295.79" font-size="3.9" text-anchor="start" fill="#404040" font-family="Liberation Sans, sans-serif">ONRAMP 8</text>
<polyline points="146.6,304.18 156.8,304.18" fill="none" stroke="#9DC0E8" stroke-width="1.1" stroke-dasharray="1.6,1.4" stroke-linejoin="round"/>
<text x="157.6" y="305.38" font-size="3.9" text-anchor="start" fill="#404040" font-family="Liberation Sans, sans-serif">IDM 4</text>
<polyline points="146.6,313.77 156.8,313.77" fill="none" stroke="#7D97CC" stroke-width="1.1" stroke-dasharray="1.6,1.4" stroke-linejoin="round"/>
<text x="157.6" y="314.97" font-size="3.9" text-anchor="start" fill="#404040" font-family="Liberation Sans, sans-serif">IDM 8</text>
<polyline points="146.6,323.36 156.8,323.36" fill="none" stroke="#34C98E" stroke-width="1.5" stroke-linejoin="round"/>
<text x="157.6" y="324.56" font-size="3.9" text-anchor="start" fill="#404040" font-family="Liberation Sans, sans-serif">ONRAMP 9</text>
<polyline points="146.6,332.95 156.8,332.95" fill="none" stroke="#F5686A" stroke-width="1.5" stroke-linejoin="round"/>
<text x="157.6" y="334.15" font-size="3.9" text-anchor="start" fill="#404040" font-family="Liberation Sans, sans-serif">ONRAMP 10</text>
<polyline points="146.6,342.54 156.8,342.54" fill="none" stroke="#C9A3D9" stroke-width="1.5" stroke-linejoin="round"/>
<text x="157.6" y="343.74" font-size="3.9" text-anchor="start" fill="#404040" font-family="Liberation Sans, sans-serif">ONRAMP 11</text>
<polyline points="146.6,352.13 156.8,352.13" fill="none" stroke="#6A7BA0" stroke-width="1.1" stroke-dasharray="1.6,1.4" stroke-linejoin="round"/>
<text x="157.6" y="353.33" font-size="3.9" text-anchor="start" fill="#404040" font-family="Liberation Sans, sans-serif">IDM 12</text>
<text x="131.67" y="283.6" font-size="6.2" text-anchor="middle" fill="#222" stroke="#222" stroke-width="0.15" font-family="Liberation Serif, serif" transform="rotate(-90 131.67 283.6)"><tspan font-style="italic">x</tspan>(m)</text>
<text x="243" y="401" font-size="6.4" letter-spacing="0.5" fill="#222" stroke="#222" stroke-width="0.2" font-family="Liberation Serif, serif"><tspan font-style="italic">t</tspan>(<tspan font-style="italic">s</tspan>)</text>
<text x="190.3" y="415.5" font-size="7.3" text-anchor="middle" fill="#222" stroke="#222" stroke-width="0.25" font-family="Liberation Serif, serif">(e&#8201;1)</text>
<rect x="270.2" y="353.8" width="94.4" height="17.6" fill="#E2E2E2"/>
<line x1="270.2" y1="401.9" x2="364.6" y2="401.9" stroke="#DDDDDD" stroke-width="0.5"/>
<line x1="270.2" y1="384.24" x2="364.6" y2="384.24" stroke="#DDDDDD" stroke-width="0.5"/>
<line x1="270.2" y1="366.59" x2="364.6" y2="366.59" stroke="#DDDDDD" stroke-width="0.5"/>
<line x1="270.2" y1="348.93" x2="364.6" y2="348.93" stroke="#DDDDDD" stroke-width="0.5"/>
<line x1="270.2" y1="331.27" x2="364.6" y2="331.27" stroke="#DDDDDD" stroke-width="0.5"/>
<line x1="270.2" y1="313.61" x2="364.6" y2="313.61" stroke="#DDDDDD" stroke-width="0.5"/>
<line x1="270.2" y1="295.96" x2="364.6" y2="295.96" stroke="#DDDDDD" stroke-width="0.5"/>
<line x1="270.2" y1="278.3" x2="364.6" y2="278.3" stroke="#DDDDDD" stroke-width="0.5"/>
<line x1="271.2" y1="278.3" x2="271.2" y2="401.9" stroke="#DDDDDD" stroke-width="0.5"/>
<line x1="288.88" y1="278.3" x2="288.88" y2="401.9" stroke="#DDDDDD" stroke-width="0.5"/>
<line x1="306.56" y1="278.3" x2="306.56" y2="401.9" stroke="#DDDDDD" stroke-width="0.5"/>
<line x1="324.24" y1="278.3" x2="324.24" y2="401.9" stroke="#DDDDDD" stroke-width="0.5"/>
<line x1="341.92" y1="278.3" x2="341.92" y2="401.9" stroke="#DDDDDD" stroke-width="0.5"/>
<line x1="359.6" y1="278.3" x2="359.6" y2="401.9" stroke="#DDDDDD" stroke-width="0.5"/>
<line x1="364.6" y1="278.3" x2="364.6" y2="401.9" stroke="#DDDDDD" stroke-width="0.5"/>
<text x="267.8" y="403.1" font-size="3.3" text-anchor="end" fill="#3a3a3a" font-family="Liberation Sans, sans-serif" font-weight="bold">600</text>
<text x="267.8" y="385.44" font-size="3.3" text-anchor="end" fill="#3a3a3a" font-family="Liberation Sans, sans-serif" font-weight="bold">800</text>
<text x="267.8" y="367.79" font-size="3.3" text-anchor="end" fill="#3a3a3a" font-family="Liberation Sans, sans-serif" font-weight="bold">1000</text>
<text x="267.8" y="350.13" font-size="3.3" text-anchor="end" fill="#3a3a3a" font-family="Liberation Sans, sans-serif" font-weight="bold">1200</text>
<text x="267.8" y="332.47" font-size="3.3" text-anchor="end" fill="#3a3a3a" font-family="Liberation Sans, sans-serif" font-weight="bold">1400</text>
<text x="267.8" y="314.81" font-size="3.3" text-anchor="end" fill="#3a3a3a" font-family="Liberation Sans, sans-serif" font-weight="bold">1600</text>
<text x="267.8" y="297.16" font-size="3.3" text-anchor="end" fill="#3a3a3a" font-family="Liberation Sans, sans-serif" font-weight="bold">1800</text>
<text x="267.8" y="279.5" font-size="3.3" text-anchor="end" fill="#3a3a3a" font-family="Liberation Sans, sans-serif" font-weight="bold">2000</text>
<text x="271.2" y="407.3" font-size="3.3" text-anchor="middle" fill="#3a3a3a" font-family="Liberation Sans, sans-serif" font-weight="bold">60</text>
<text x="288.88" y="407.3" font-size="3.3" text-anchor="middle" fill="#3a3a3a" font-family="Liberation Sans, sans-serif" font-weight="bold">70</text>
<text x="306.56" y="407.3" font-size="3.3" text-anchor="middle" fill="#3a3a3a" font-family="Liberation Sans, sans-serif" font-weight="bold">80</text>
<text x="324.24" y="407.3" font-size="3.3" text-anchor="middle" fill="#3a3a3a" font-family="Liberation Sans, sans-serif" font-weight="bold">90</text>
<text x="341.92" y="407.3" font-size="3.3" text-anchor="middle" fill="#3a3a3a" font-family="Liberation Sans, sans-serif" font-weight="bold">100</text>
<text x="359.6" y="407.3" font-size="3.3" text-anchor="middle" fill="#3a3a3a" font-family="Liberation Sans, sans-serif" font-weight="bold">110</text>
<polyline points="271.1,378.7 310,338.1 364.3,280.7" fill="none" stroke="#9DC0E8" stroke-width="1.15" stroke-dasharray="1.6,1.4" stroke-linejoin="round"/>
<polyline points="271.1,393 310,350.7 364.3,291.7" fill="none" stroke="#9DC0E8" stroke-width="1.15" stroke-dasharray="1.6,1.4" stroke-linejoin="round"/>
<polyline points="271.1,395.8 310,354 364.3,297.2" fill="none" stroke="#7F9FD6" stroke-width="1.5" stroke-dasharray="1,1" stroke-linejoin="round"/>
<polyline points="278.5,395.8 322.6,352 364.3,309" fill="none" stroke="#C49A50" stroke-width="1.15" stroke-dasharray="1.6,1.4" stroke-linejoin="round"/>
<path d="M271.1,389.5 C274.95,386.25 289.12,374.33 294.2,370 C297.2,367.44 299.63,365.08 301.6,363.5 C303.26,362.16 304.57,361.98 306,360.5 C307.43,359.02 308.36,356.84 310.2,354.6 C312.53,351.77 315.73,347.61 320,343.5 C329.02,334.82 356.92,309.33 364.3,302.5" fill="none" stroke="#C9A3D9" stroke-width="1.2"/>
<path d="M271.1,390.6 C274.95,387.32 288.83,375.55 294.2,370.9 C297.9,367.69 300.33,365.6 303.3,362.7 C306.27,359.8 308.48,357.14 312,353.5 C322.17,342.98 355.58,308.58 364.3,299.6" fill="none" stroke="#F5686A" stroke-width="1.4"/>
<path d="M271.1,387.1 C274.3,384.62 286,376 290.3,372.2 C293.39,369.47 294.73,367.8 296.9,364.3 C299.3,360.43 300.3,354.27 304.7,349 C315.02,336.63 349.78,299.92 358.8,290.1" fill="none" stroke="#34C98E" stroke-width="1.4"/>
<path d="M271.1,385.3 C274.08,383.12 285.15,375.48 289,372.2 C291.56,370.02 292.34,368.4 294.2,365.6 C296.38,362.32 300,355.65 302.1,352.5 C303.76,350.02 304.83,348.94 306.8,346.7 C316.38,335.78 350.8,296.95 359.6,287" fill="none" stroke="#FFCA3A" stroke-width="1.4"/>
<polyline points="276,282.7 284.8,282.7" fill="none" stroke="#9DC0E8" stroke-width="1.1" stroke-dasharray="1.6,1.4" stroke-linejoin="round"/>
<text x="285.6" y="283.9" font-size="3.3" text-anchor="start" fill="#404040" font-family="Liberation Sans, sans-serif">ACC 2</text>
<polyline points="276,291.29 284.8,291.29" fill="none" stroke="#FFCA3A" stroke-width="1.5" stroke-linejoin="round"/>
<text x="285.6" y="292.49" font-size="3.3" text-anchor="start" fill="#404040" font-family="Liberation Sans, sans-serif">ONRAMP 3</text>
<polyline points="276,299.88 284.8,299.88" fill="none" stroke="#34C98E" stroke-width="1.5" stroke-linejoin="round"/>
<text x="285.6" y="301.08" font-size="3.3" text-anchor="start" fill="#404040" font-family="Liberation Sans, sans-serif">ONRAMP 4</text>
<polyline points="276,308.47 284.8,308.47" fill="none" stroke="#9DC0E8" stroke-width="1.1" stroke-dasharray="1.6,1.4" stroke-linejoin="round"/>
<text x="285.6" y="309.67" font-size="3.3" text-anchor="start" fill="#404040" font-family="Liberation Sans, sans-serif">IDM 5</text>
<polyline points="276,317.06 284.8,317.06" fill="none" stroke="#7F9FD6" stroke-width="1.1" stroke-dasharray="1.6,1.4" stroke-linejoin="round"/>
<text x="285.6" y="318.26" font-size="3.3" text-anchor="start" fill="#404040" font-family="Liberation Sans, sans-serif">ACC 7</text>
<polyline points="276,325.65 284.8,325.65" fill="none" stroke="#F5686A" stroke-width="1.5" stroke-linejoin="round"/>
<text x="285.6" y="326.85" font-size="3.3" text-anchor="start" fill="#404040" font-family="Liberation Sans, sans-serif">ONRAMP 8</text>
<polyline points="276,334.24 284.8,334.24" fill="none" stroke="#C9A3D9" stroke-width="1.5" stroke-linejoin="round"/>
<text x="285.6" y="335.44" font-size="3.3" text-anchor="start" fill="#404040" font-family="Liberation Sans, sans-serif">ONRAMP 9</text>
<polyline points="276,342.83 284.8,342.83" fill="none" stroke="#C49A50" stroke-width="1.1" stroke-dasharray="1.6,1.4" stroke-linejoin="round"/>
<text x="285.6" y="344.03" font-size="3.3" text-anchor="start" fill="#404040" font-family="Liberation Sans, sans-serif">IDM 10</text>
<text x="254.67" y="283.4" font-size="6.2" text-anchor="middle" fill="#222" stroke="#222" stroke-width="0.15" font-family="Liberation Serif, serif" transform="rotate(-90 254.67 283.4)"><tspan font-style="italic">x</tspan>(m)</text>
<text x="366.7" y="400.5" font-size="6.4" letter-spacing="0.5" fill="#222" stroke="#222" stroke-width="0.2" font-family="Liberation Serif, serif"><tspan font-style="italic">t</tspan>(<tspan font-style="italic">s</tspan>)</text>
<text x="316.4" y="414.2" font-size="7.3" text-anchor="middle" fill="#222" stroke="#222" stroke-width="0.25" font-family="Liberation Serif, serif">(f&#8201;1)</text>
<line x1="22.6" y1="461.7" x2="115.3" y2="461.7" stroke="#EDEDED" stroke-width="0.5"/>
<line x1="22.6" y1="456.1" x2="115.3" y2="456.1" stroke="#EDEDED" stroke-width="0.5"/>
<line x1="22.6" y1="450.5" x2="115.3" y2="450.5" stroke="#EDEDED" stroke-width="0.5"/>
<line x1="22.6" y1="444.9" x2="115.3" y2="444.9" stroke="#EDEDED" stroke-width="0.5"/>
<line x1="22.6" y1="439.3" x2="115.3" y2="439.3" stroke="#EDEDED" stroke-width="0.5"/>
<line x1="22.6" y1="433.7" x2="115.3" y2="433.7" stroke="#EDEDED" stroke-width="0.5"/>
<line x1="22.6" y1="428.1" x2="115.3" y2="428.1" stroke="#EDEDED" stroke-width="0.5"/>
<line x1="22.6" y1="422.5" x2="115.3" y2="422.5" stroke="#EDEDED" stroke-width="0.5"/>
<line x1="22.6" y1="416.9" x2="115.3" y2="416.9" stroke="#EDEDED" stroke-width="0.5"/>
<line x1="21.8" y1="416.9" x2="21.8" y2="461.7" stroke="#EDEDED" stroke-width="0.5"/>
<line x1="42.55" y1="416.9" x2="42.55" y2="461.7" stroke="#EDEDED" stroke-width="0.5"/>
<line x1="63.3" y1="416.9" x2="63.3" y2="461.7" stroke="#EDEDED" stroke-width="0.5"/>
<line x1="84.05" y1="416.9" x2="84.05" y2="461.7" stroke="#EDEDED" stroke-width="0.5"/>
<line x1="104.8" y1="416.9" x2="104.8" y2="461.7" stroke="#EDEDED" stroke-width="0.5"/>
<line x1="115.3" y1="416.9" x2="115.3" y2="461.7" stroke="#EDEDED" stroke-width="0.5"/>
<text x="20.2" y="462.9" font-size="3.0" text-anchor="end" fill="#3a3a3a" font-family="Liberation Sans, sans-serif" font-weight="bold">0</text>
<text x="20.2" y="457.3" font-size="3.0" text-anchor="end" fill="#3a3a3a" font-family="Liberation Sans, sans-serif" font-weight="bold">5</text>
<text x="20.2" y="451.7" font-size="3.0" text-anchor="end" fill="#3a3a3a" font-family="Liberation Sans, sans-serif" font-weight="bold">10</text>
<text x="20.2" y="446.1" font-size="3.0" text-anchor="end" fill="#3a3a3a" font-family="Liberation Sans, sans-serif" font-weight="bold">15</text>
<text x="20.2" y="440.5" font-size="3.0" text-anchor="end" fill="#3a3a3a" font-family="Liberation Sans, sans-serif" font-weight="bold">20</text>
<text x="20.2" y="434.9" font-size="3.0" text-anchor="end" fill="#3a3a3a" font-family="Liberation Sans, sans-serif" font-weight="bold">25</text>
<text x="20.2" y="429.3" font-size="3.0" text-anchor="end" fill="#3a3a3a" font-family="Liberation Sans, sans-serif" font-weight="bold">30</text>
<text x="20.2" y="423.7" font-size="3.0" text-anchor="end" fill="#3a3a3a" font-family="Liberation Sans, sans-serif" font-weight="bold">35</text>
<text x="20.2" y="418.1" font-size="3.0" text-anchor="end" fill="#3a3a3a" font-family="Liberation Sans, sans-serif" font-weight="bold">40</text>
<text x="21.8" y="466.3" font-size="3.0" text-anchor="middle" fill="#3a3a3a" font-family="Liberation Sans, sans-serif" font-weight="bold">60</text>
<text x="42.55" y="466.3" font-size="3.0" text-anchor="middle" fill="#3a3a3a" font-family="Liberation Sans, sans-serif" font-weight="bold">70</text>
<text x="63.3" y="466.3" font-size="3.0" text-anchor="middle" fill="#3a3a3a" font-family="Liberation Sans, sans-serif" font-weight="bold">80</text>
<text x="84.05" y="466.3" font-size="3.0" text-anchor="middle" fill="#3a3a3a" font-family="Liberation Sans, sans-serif" font-weight="bold">90</text>
<text x="104.8" y="466.3" font-size="3.0" text-anchor="middle" fill="#3a3a3a" font-family="Liberation Sans, sans-serif" font-weight="bold">100</text>
<polyline points="21.4,443 43.1,443 49.4,424.2 58.9,424.2 62.8,438 66,437 115.3,436.7" fill="none" stroke="#FFCA3A" stroke-width="1.3" stroke-linejoin="round"/>
<polyline points="45.1,443 51,424.2 61.5,424.2 65.4,440 68.1,436.7 115.3,436.7" fill="none" stroke="#34C98E" stroke-width="1.3" stroke-linejoin="round"/>
<polyline points="48.4,443 53.6,436 56.2,436.7 65.4,438.6 70,439.3 76.6,440 90,439.5 102.8,438 115.3,436.7" fill="none" stroke="#F5686A" stroke-width="1.2" stroke-linejoin="round"/>
<polyline points="21.4,443 47.1,443 56.2,453.1 64.1,428.8 66.1,438 70,439.3 76.6,440 90,439.5 102.8,438 115.3,436.7" fill="none" stroke="#C9A3D9" stroke-width="1.15" stroke-linejoin="round"/>
<polyline points="23,472.3 28.6,472.3" fill="none" stroke="#FFCA3A" stroke-width="1.4" stroke-linejoin="round"/>
<text x="29.4" y="473.3" font-size="3.0" text-anchor="start" fill="#404040" font-family="Liberation Sans, sans-serif">ONRAMP 3</text>
<polyline points="45.9,472.3 51.5,472.3" fill="none" stroke="#34C98E" stroke-width="1.4" stroke-linejoin="round"/>
<text x="52.3" y="473.3" font-size="3.0" text-anchor="start" fill="#404040" font-family="Liberation Sans, sans-serif">ONRAMP 4</text>
<polyline points="70.8,472.3 76.4,472.3" fill="none" stroke="#F5686A" stroke-width="1.4" stroke-linejoin="round"/>
<text x="77.2" y="473.3" font-size="3.0" text-anchor="start" fill="#404040" font-family="Liberation Sans, sans-serif">ONRAMP 8</text>
<polyline points="93.5,472.3 99.1,472.3" fill="none" stroke="#C9A3D9" stroke-width="1.4" stroke-linejoin="round"/>
<text x="99.9" y="473.3" font-size="3.0" text-anchor="start" fill="#404040" font-family="Liberation Sans, sans-serif">ONRAMP 9</text>
<text x="9.05" y="427.1" font-size="6.1" text-anchor="middle" fill="#222" stroke="#222" stroke-width="0.15" font-family="Liberation Serif, serif" transform="rotate(-90 9.05 427.1)">v(m/ s)</text>
<text x="115.5" y="460.5" font-size="6.4" letter-spacing="0.5" fill="#222" stroke="#222" stroke-width="0.2" font-family="Liberation Serif, serif"><tspan font-style="italic">t</tspan>(<tspan font-style="italic">s</tspan>)</text>
<text x="67.8" y="481" font-size="7.3" text-anchor="middle" fill="#222" stroke="#222" stroke-width="0.25" font-family="Liberation Serif, serif">(d&#8201;2)</text>
<line x1="146" y1="462" x2="238.4" y2="462" stroke="#EDEDED" stroke-width="0.5"/>
<line x1="146" y1="456.38" x2="238.4" y2="456.38" stroke="#EDEDED" stroke-width="0.5"/>
<line x1="146" y1="450.75" x2="238.4" y2="450.75" stroke="#EDEDED" stroke-width="0.5"/>
<line x1="146" y1="445.12" x2="238.4" y2="445.12" stroke="#EDEDED" stroke-width="0.5"/>
<line x1="146" y1="439.5" x2="238.4" y2="439.5" stroke="#EDEDED" stroke-width="0.5"/>
<line x1="146" y1="433.88" x2="238.4" y2="433.88" stroke="#EDEDED" stroke-width="0.5"/>
<line x1="146" y1="428.25" x2="238.4" y2="428.25" stroke="#EDEDED" stroke-width="0.5"/>
<line x1="146" y1="422.62" x2="238.4" y2="422.62" stroke="#EDEDED" stroke-width="0.5"/>
<line x1="146" y1="417" x2="238.4" y2="417" stroke="#EDEDED" stroke-width="0.5"/>
<line x1="145.4" y1="417" x2="145.4" y2="462" stroke="#EDEDED" stroke-width="0.5"/>
<line x1="162.28" y1="417" x2="162.28" y2="462" stroke="#EDEDED" stroke-width="0.5"/>
<line x1="179.16" y1="417" x2="179.16" y2="462" stroke="#EDEDED" stroke-width="0.5"/>
<line x1="196.04" y1="417" x2="196.04" y2="462" stroke="#EDEDED" stroke-width="0.5"/>
<line x1="212.92" y1="417" x2="212.92" y2="462" stroke="#EDEDED" stroke-width="0.5"/>
<line x1="229.8" y1="417" x2="229.8" y2="462" stroke="#EDEDED" stroke-width="0.5"/>
<line x1="238.4" y1="417" x2="238.4" y2="462" stroke="#EDEDED" stroke-width="0.5"/>
<text x="143.5" y="463.2" font-size="3.0" text-anchor="end" fill="#3a3a3a" font-family="Liberation Sans, sans-serif" font-weight="bold">0</text>
<text x="143.5" y="457.57" font-size="3.0" text-anchor="end" fill="#3a3a3a" font-family="Liberation Sans, sans-serif" font-weight="bold">5</text>
<text x="143.5" y="451.95" font-size="3.0" text-anchor="end" fill="#3a3a3a" font-family="Liberation Sans, sans-serif" font-weight="bold">10</text>
<text x="143.5" y="446.32" font-size="3.0" text-anchor="end" fill="#3a3a3a" font-family="Liberation Sans, sans-serif" font-weight="bold">15</text>
<text x="143.5" y="440.7" font-size="3.0" text-anchor="end" fill="#3a3a3a" font-family="Liberation Sans, sans-serif" font-weight="bold">20</text>
<text x="143.5" y="435.07" font-size="3.0" text-anchor="end" fill="#3a3a3a" font-family="Liberation Sans, sans-serif" font-weight="bold">25</text>
<text x="143.5" y="429.45" font-size="3.0" text-anchor="end" fill="#3a3a3a" font-family="Liberation Sans, sans-serif" font-weight="bold">30</text>
<text x="143.5" y="423.82" font-size="3.0" text-anchor="end" fill="#3a3a3a" font-family="Liberation Sans, sans-serif" font-weight="bold">35</text>
<text x="143.5" y="418.2" font-size="3.0" text-anchor="end" fill="#3a3a3a" font-family="Liberation Sans, sans-serif" font-weight="bold">40</text>
<text x="145.4" y="466.4" font-size="3.0" text-anchor="middle" fill="#3a3a3a" font-family="Liberation Sans, sans-serif" font-weight="bold">60</text>
<text x="162.28" y="466.4" font-size="3.0" text-anchor="middle" fill="#3a3a3a" font-family="Liberation Sans, sans-serif" font-weight="bold">70</text>
<text x="179.16" y="466.4" font-size="3.0" text-anchor="middle" fill="#3a3a3a" font-family="Liberation Sans, sans-serif" font-weight="bold">80</text>
<text x="196.04" y="466.4" font-size="3.0" text-anchor="middle" fill="#3a3a3a" font-family="Liberation Sans, sans-serif" font-weight="bold">90</text>
<text x="212.92" y="466.4" font-size="3.0" text-anchor="middle" fill="#3a3a3a" font-family="Liberation Sans, sans-serif" font-weight="bold">100</text>
<text x="229.8" y="466.4" font-size="3.0" text-anchor="middle" fill="#3a3a3a" font-family="Liberation Sans, sans-serif" font-weight="bold">110</text>
<polyline points="145.4,443 162.6,443 172.1,424.2 178.9,424.2 181.9,438.6 183.2,436.7 234.8,436.7" fill="none" stroke="#FFCA3A" stroke-width="1.3" stroke-linejoin="round"/>
<polyline points="174.7,443 175.3,449.8 176.5,446 185.8,461.6 190.4,461.6 192.5,453 194.4,445.2 197,441 199.6,438 202,436 204.7,434.5 211.2,433.9 214.2,435.7 234.8,436.8" fill="none" stroke="#34C98E" stroke-width="1.3" stroke-linejoin="round"/>
<polyline points="172.1,443 172.7,446.5 173.9,444.5 174.7,447 186.5,461.6 195,461.6 206.5,423.9 210,423.9 213.6,435 220,435.8 234.8,436.8" fill="none" stroke="#F5686A" stroke-width="1.3" stroke-linejoin="round"/>
<polyline points="145.4,443 174.7,443 185.8,461.6 201.6,461.6 212.4,423.9 224.2,423.9 227.2,441.6 229.5,436.8 234.8,436.8" fill="none" stroke="#C9A3D9" stroke-width="1.15" stroke-linejoin="round"/>
<polyline points="146,472.1 151.6,472.1" fill="none" stroke="#FFCA3A" stroke-width="1.4" stroke-linejoin="round"/>
<text x="152.4" y="473.1" font-size="3.0" text-anchor="start" fill="#404040" font-family="Liberation Sans, sans-serif">ONRAMP 3</text>
<polyline points="167.9,472.1 173.5,472.1" fill="none" stroke="#34C98E" stroke-width="1.4" stroke-linejoin="round"/>
<text x="174.3" y="473.1" font-size="3.0" text-anchor="start" fill="#404040" font-family="Liberation Sans, sans-serif">ONRAMP 9</text>
<polyline points="189.9,472.1 195.5,472.1" fill="none" stroke="#F5686A" stroke-width="1.4" stroke-linejoin="round"/>
<text x="196.3" y="473.1" font-size="3.0" text-anchor="start" fill="#404040" font-family="Liberation Sans, sans-serif">ONRAMP 10</text>
<polyline points="215,472.1 220.6,472.1" fill="none" stroke="#C9A3D9" stroke-width="1.4" stroke-linejoin="round"/>
<text x="221.4" y="473.1" font-size="3.0" text-anchor="start" fill="#404040" font-family="Liberation Sans, sans-serif">ONRAMP 11</text>
<text x="135.65" y="427.3" font-size="6.1" text-anchor="middle" fill="#222" stroke="#222" stroke-width="0.15" font-family="Liberation Serif, serif" transform="rotate(-90 135.65 427.3)">v(m/ s)</text>
<text x="241.9" y="461" font-size="6.4" letter-spacing="0.5" fill="#222" stroke="#222" stroke-width="0.2" font-family="Liberation Serif, serif"><tspan font-style="italic">t</tspan>(<tspan font-style="italic">s</tspan>)</text>
<text x="190.4" y="481" font-size="7.3" text-anchor="middle" fill="#222" stroke="#222" stroke-width="0.25" font-family="Liberation Serif, serif">(e&#8201;2)</text>
<line x1="271.2" y1="459.8" x2="364.6" y2="459.8" stroke="#EDEDED" stroke-width="0.5"/>
<line x1="271.2" y1="454.39" x2="364.6" y2="454.39" stroke="#EDEDED" stroke-width="0.5"/>
<line x1="271.2" y1="448.98" x2="364.6" y2="448.98" stroke="#EDEDED" stroke-width="0.5"/>
<line x1="271.2" y1="443.56" x2="364.6" y2="443.56" stroke="#EDEDED" stroke-width="0.5"/>
<line x1="271.2" y1="438.15" x2="364.6" y2="438.15" stroke="#EDEDED" stroke-width="0.5"/>
<line x1="271.2" y1="432.74" x2="364.6" y2="432.74" stroke="#EDEDED" stroke-width="0.5"/>
<line x1="271.2" y1="427.32" x2="364.6" y2="427.32" stroke="#EDEDED" stroke-width="0.5"/>
<line x1="271.2" y1="421.91" x2="364.6" y2="421.91" stroke="#EDEDED" stroke-width="0.5"/>
<line x1="271.2" y1="416.5" x2="364.6" y2="416.5" stroke="#EDEDED" stroke-width="0.5"/>
<line x1="271.2" y1="416.5" x2="271.2" y2="459.8" stroke="#EDEDED" stroke-width="0.5"/>
<line x1="281.4" y1="416.5" x2="281.4" y2="459.8" stroke="#EDEDED" stroke-width="0.5"/>
<line x1="291.6" y1="416.5" x2="291.6" y2="459.8" stroke="#EDEDED" stroke-width="0.5"/>
<line x1="301.8" y1="416.5" x2="301.8" y2="459.8" stroke="#EDEDED" stroke-width="0.5"/>
<line x1="312" y1="416.5" x2="312" y2="459.8" stroke="#EDEDED" stroke-width="0.5"/>
<line x1="322.2" y1="416.5" x2="322.2" y2="459.8" stroke="#EDEDED" stroke-width="0.5"/>
<line x1="332.4" y1="416.5" x2="332.4" y2="459.8" stroke="#EDEDED" stroke-width="0.5"/>
<line x1="342.6" y1="416.5" x2="342.6" y2="459.8" stroke="#EDEDED" stroke-width="0.5"/>
<line x1="352.8" y1="416.5" x2="352.8" y2="459.8" stroke="#EDEDED" stroke-width="0.5"/>
<line x1="363" y1="416.5" x2="363" y2="459.8" stroke="#EDEDED" stroke-width="0.5"/>
<line x1="364.6" y1="416.5" x2="364.6" y2="459.8" stroke="#EDEDED" stroke-width="0.5"/>
<text x="268.8" y="461" font-size="2.8" text-anchor="end" fill="#3a3a3a" font-family="Liberation Sans, sans-serif" font-weight="bold">0</text>
<text x="268.8" y="455.59" font-size="2.8" text-anchor="end" fill="#3a3a3a" font-family="Liberation Sans, sans-serif" font-weight="bold">5</text>
<text x="268.8" y="450.18" font-size="2.8" text-anchor="end" fill="#3a3a3a" font-family="Liberation Sans, sans-serif" font-weight="bold">10</text>
<text x="268.8" y="444.76" font-size="2.8" text-anchor="end" fill="#3a3a3a" font-family="Liberation Sans, sans-serif" font-weight="bold">15</text>
<text x="268.8" y="439.35" font-size="2.8" text-anchor="end" fill="#3a3a3a" font-family="Liberation Sans, sans-serif" font-weight="bold">20</text>
<text x="268.8" y="433.94" font-size="2.8" text-anchor="end" fill="#3a3a3a" font-family="Liberation Sans, sans-serif" font-weight="bold">25</text>
<text x="268.8" y="428.52" font-size="2.8" text-anchor="end" fill="#3a3a3a" font-family="Liberation Sans, sans-serif" font-weight="bold">30</text>
<text x="268.8" y="423.11" font-size="2.8" text-anchor="end" fill="#3a3a3a" font-family="Liberation Sans, sans-serif" font-weight="bold">35</text>
<text x="268.8" y="417.7" font-size="2.8" text-anchor="end" fill="#3a3a3a" font-family="Liberation Sans, sans-serif" font-weight="bold">40</text>
<text x="271.2" y="463.4" font-size="2.8" text-anchor="middle" fill="#3a3a3a" font-family="Liberation Sans, sans-serif" font-weight="bold">60</text>
<text x="281.4" y="463.4" font-size="2.8" text-anchor="middle" fill="#3a3a3a" font-family="Liberation Sans, sans-serif" font-weight="bold">65</text>
<text x="291.6" y="463.4" font-size="2.8" text-anchor="middle" fill="#3a3a3a" font-family="Liberation Sans, sans-serif" font-weight="bold">70</text>
<text x="301.8" y="463.4" font-size="2.8" text-anchor="middle" fill="#3a3a3a" font-family="Liberation Sans, sans-serif" font-weight="bold">75</text>
<text x="312" y="463.4" font-size="2.8" text-anchor="middle" fill="#3a3a3a" font-family="Liberation Sans, sans-serif" font-weight="bold">80</text>
<text x="322.2" y="463.4" font-size="2.8" text-anchor="middle" fill="#3a3a3a" font-family="Liberation Sans, sans-serif" font-weight="bold">85</text>
<text x="332.4" y="463.4" font-size="2.8" text-anchor="middle" fill="#3a3a3a" font-family="Liberation Sans, sans-serif" font-weight="bold">90</text>
<text x="342.6" y="463.4" font-size="2.8" text-anchor="middle" fill="#3a3a3a" font-family="Liberation Sans, sans-serif" font-weight="bold">95</text>
<text x="352.8" y="463.4" font-size="2.8" text-anchor="middle" fill="#3a3a3a" font-family="Liberation Sans, sans-serif" font-weight="bold">100</text>
<text x="363" y="463.4" font-size="2.8" text-anchor="middle" fill="#3a3a3a" font-family="Liberation Sans, sans-serif" font-weight="bold">105</text>
<polyline points="271.2,441.5 291.6,441.5 297.5,423.2 308,423.2 311.2,436.3 313,435.5 363,435.4" fill="none" stroke="#FFCA3A" stroke-width="1.3" stroke-linejoin="round"/>
<polyline points="293.5,441.5 299.4,423.2 309.9,423.2 312.6,436.9 315.2,435.4 363,435.4" fill="none" stroke="#34C98E" stroke-width="1.3" stroke-linejoin="round"/>
<polyline points="297.5,441.5 300.7,435.4 304.7,435.9 314,437.3 324.4,438.9 335,438.5 350,437 363,435.4" fill="none" stroke="#F5686A" stroke-width="1.2" stroke-linejoin="round"/>
<polyline points="271.2,441.5 298.1,441.9 307.3,450.7 318.5,424.5 323.7,441.5 328.3,438.2 340,438.3 352,437 363,435.4" fill="none" stroke="#C9A3D9" stroke-width="1.15" stroke-linejoin="round"/>
<polyline points="272.5,469.1 278.1,469.1" fill="none" stroke="#FFCA3A" stroke-width="1.4" stroke-linejoin="round"/>
<text x="278.9" y="470.1" font-size="3.0" text-anchor="start" fill="#404040" font-family="Liberation Sans, sans-serif">ONRAMP 3</text>
<polyline points="295.5,469.1 301.1,469.1" fill="none" stroke="#34C98E" stroke-width="1.4" stroke-linejoin="round"/>
<text x="301.9" y="470.1" font-size="3.0" text-anchor="start" fill="#404040" font-family="Liberation Sans, sans-serif">ONRAMP 4</text>
<polyline points="318.3,469.1 323.9,469.1" fill="none" stroke="#F5686A" stroke-width="1.4" stroke-linejoin="round"/>
<text x="324.7" y="470.1" font-size="3.0" text-anchor="start" fill="#404040" font-family="Liberation Sans, sans-serif">ONRAMP 8</text>
<polyline points="342.5,469.1 348.1,469.1" fill="none" stroke="#C9A3D9" stroke-width="1.4" stroke-linejoin="round"/>
<text x="348.9" y="470.1" font-size="3.0" text-anchor="start" fill="#404040" font-family="Liberation Sans, sans-serif">ONRAMP 9</text>
<text x="258.15" y="426.3" font-size="6.1" text-anchor="middle" fill="#222" stroke="#222" stroke-width="0.15" font-family="Liberation Serif, serif" transform="rotate(-90 258.15 426.3)">v(m/ s)</text>
<text x="364.6" y="458" font-size="6.4" letter-spacing="0.5" fill="#222" stroke="#222" stroke-width="0.2" font-family="Liberation Serif, serif"><tspan font-style="italic">t</tspan>(<tspan font-style="italic">s</tspan>)</text>
<text x="316" y="481.2" font-size="7.3" text-anchor="middle" fill="#222" stroke="#222" stroke-width="0.25" font-family="Liberation Serif, serif">(f&#8201;2)</text>
<line x1="22.3" y1="532.4" x2="115" y2="532.4" stroke="#EDEDED" stroke-width="0.5"/>
<line x1="22.3" y1="526.84" x2="115" y2="526.84" stroke="#EDEDED" stroke-width="0.5"/>
<line x1="22.3" y1="521.29" x2="115" y2="521.29" stroke="#EDEDED" stroke-width="0.5"/>
<line x1="22.3" y1="515.73" x2="115" y2="515.73" stroke="#EDEDED" stroke-width="0.5"/>
<line x1="22.3" y1="510.18" x2="115" y2="510.18" stroke="#EDEDED" stroke-width="0.5"/>
<line x1="22.3" y1="504.62" x2="115" y2="504.62" stroke="#EDEDED" stroke-width="0.5"/>
<line x1="22.3" y1="499.07" x2="115" y2="499.07" stroke="#EDEDED" stroke-width="0.5"/>
<line x1="22.3" y1="493.51" x2="115" y2="493.51" stroke="#EDEDED" stroke-width="0.5"/>
<line x1="22.3" y1="487.96" x2="115" y2="487.96" stroke="#EDEDED" stroke-width="0.5"/>
<line x1="22.3" y1="482.4" x2="115" y2="482.4" stroke="#EDEDED" stroke-width="0.5"/>
<line x1="22.7" y1="482.4" x2="22.7" y2="532.4" stroke="#EDEDED" stroke-width="0.5"/>
<line x1="43.02" y1="482.4" x2="43.02" y2="532.4" stroke="#EDEDED" stroke-width="0.5"/>
<line x1="63.35" y1="482.4" x2="63.35" y2="532.4" stroke="#EDEDED" stroke-width="0.5"/>
<line x1="83.67" y1="482.4" x2="83.67" y2="532.4" stroke="#EDEDED" stroke-width="0.5"/>
<line x1="104" y1="482.4" x2="104" y2="532.4" stroke="#EDEDED" stroke-width="0.5"/>
<line x1="115" y1="482.4" x2="115" y2="532.4" stroke="#EDEDED" stroke-width="0.5"/>
<text x="19.9" y="533.6" font-size="3.0" text-anchor="end" fill="#3a3a3a" font-family="Liberation Sans, sans-serif" font-weight="bold">-10</text>
<text x="19.9" y="528.04" font-size="3.0" text-anchor="end" fill="#3a3a3a" font-family="Liberation Sans, sans-serif" font-weight="bold">-8</text>
<text x="19.9" y="522.49" font-size="3.0" text-anchor="end" fill="#3a3a3a" font-family="Liberation Sans, sans-serif" font-weight="bold">-6</text>
<text x="19.9" y="516.93" font-size="3.0" text-anchor="end" fill="#3a3a3a" font-family="Liberation Sans, sans-serif" font-weight="bold">-4</text>
<text x="19.9" y="511.38" font-size="3.0" text-anchor="end" fill="#3a3a3a" font-family="Liberation Sans, sans-serif" font-weight="bold">-2</text>
<text x="19.9" y="505.82" font-size="3.0" text-anchor="end" fill="#3a3a3a" font-family="Liberation Sans, sans-serif" font-weight="bold">0</text>
<text x="19.9" y="500.27" font-size="3.0" text-anchor="end" fill="#3a3a3a" font-family="Liberation Sans, sans-serif" font-weight="bold">2</text>
<text x="19.9" y="494.71" font-size="3.0" text-anchor="end" fill="#3a3a3a" font-family="Liberation Sans, sans-serif" font-weight="bold">4</text>
<text x="19.9" y="489.16" font-size="3.0" text-anchor="end" fill="#3a3a3a" font-family="Liberation Sans, sans-serif" font-weight="bold">6</text>
<text x="19.9" y="483.6" font-size="3.0" text-anchor="end" fill="#3a3a3a" font-family="Liberation Sans, sans-serif" font-weight="bold">8</text>
<text x="22.7" y="508.6" font-size="3.0" text-anchor="middle" fill="#3a3a3a" font-family="Liberation Sans, sans-serif" font-weight="bold">60</text>
<text x="43.02" y="508.6" font-size="3.0" text-anchor="middle" fill="#3a3a3a" font-family="Liberation Sans, sans-serif" font-weight="bold">70</text>
<text x="63.35" y="508.6" font-size="3.0" text-anchor="middle" fill="#3a3a3a" font-family="Liberation Sans, sans-serif" font-weight="bold">80</text>
<text x="83.67" y="508.6" font-size="3.0" text-anchor="middle" fill="#3a3a3a" font-family="Liberation Sans, sans-serif" font-weight="bold">90</text>
<text x="104" y="508.6" font-size="3.0" text-anchor="middle" fill="#3a3a3a" font-family="Liberation Sans, sans-serif" font-weight="bold">100</text>
<polyline points="21.4,504.6 42.3,504.6 42.7,488.3 44.3,488.3 44.7,504.6 58,504.6 58.5,527.6 60.7,527.6 62.7,500.1 63.3,500.1 64.5,504.6 115,504.6" fill="none" stroke="#FFCA3A" stroke-width="1.2" stroke-linejoin="round"/>
<polyline points="43.3,504.6 43.5,488.3 50.1,488.3 50.2,504.6 60.2,504.6 60.5,527.6 65.1,527.6 66.3,496.5 68.6,504.6 115,504.6" fill="none" stroke="#34C98E" stroke-width="1.2" stroke-linejoin="round"/>
<polyline points="47,504.6 48,511 49,511 49.5,504.6 50,491.2 50.9,491.2 52.5,499 53.9,504.8 115,504.6" fill="none" stroke="#F5686A" stroke-width="1.2" stroke-linejoin="round"/>
<polyline points="21.4,504.6 46.2,504.6 46.2,510.5 55.7,510.5 55.7,491.2 63.9,491.2 64.5,527.6 66.9,527.6 68,504.6 115,504.6" fill="none" stroke="#C9A3D9" stroke-width="1.15" stroke-linejoin="round"/>
<polyline points="22,537.8 27.6,537.8" fill="none" stroke="#FFCA3A" stroke-width="1.4" stroke-linejoin="round"/>
<text x="28.4" y="538.8" font-size="3.0" text-anchor="start" fill="#404040" font-family="Liberation Sans, sans-serif">ONRAMP 3</text>
<polyline points="45.5,537.8 51.1,537.8" fill="none" stroke="#34C98E" stroke-width="1.4" stroke-linejoin="round"/>
<text x="51.9" y="538.8" font-size="3.0" text-anchor="start" fill="#404040" font-family="Liberation Sans, sans-serif">ONRAMP 4</text>
<polyline points="69.1,537.8 74.7,537.8" fill="none" stroke="#F5686A" stroke-width="1.4" stroke-linejoin="round"/>
<text x="75.5" y="538.8" font-size="3.0" text-anchor="start" fill="#404040" font-family="Liberation Sans, sans-serif">ONRAMP 8</text>
<polyline points="92.3,537.8 97.9,537.8" fill="none" stroke="#C9A3D9" stroke-width="1.4" stroke-linejoin="round"/>
<text x="98.7" y="538.8" font-size="3.0" text-anchor="start" fill="#404040" font-family="Liberation Sans, sans-serif">ONRAMP 9</text>
<text x="7.73" y="499" font-size="6.4" text-anchor="middle" fill="#222" stroke="#222" stroke-width="0.15" font-family="Liberation Serif, serif" transform="rotate(-90 7.73 499)"><tspan font-style="italic">a</tspan>(m/ s<tspan dy="-2.2" font-size="3.8">2</tspan><tspan dy="2.2">)</tspan></text>
<text x="118.2" y="533.5" font-size="6.4" letter-spacing="0.5" fill="#222" stroke="#222" stroke-width="0.2" font-family="Liberation Serif, serif"><tspan font-style="italic">t</tspan>(<tspan font-style="italic">s</tspan>)</text>
<text x="67.7" y="547" font-size="7.3" text-anchor="middle" fill="#222" stroke="#222" stroke-width="0.25" font-family="Liberation Serif, serif">(d&#8201;3)</text>
<line x1="145.6" y1="532.9" x2="237.6" y2="532.9" stroke="#EDEDED" stroke-width="0.5"/>
<line x1="145.6" y1="527.36" x2="237.6" y2="527.36" stroke="#EDEDED" stroke-width="0.5"/>
<line x1="145.6" y1="521.81" x2="237.6" y2="521.81" stroke="#EDEDED" stroke-width="0.5"/>
<line x1="145.6" y1="516.27" x2="237.6" y2="516.27" stroke="#EDEDED" stroke-width="0.5"/>
<line x1="145.6" y1="510.72" x2="237.6" y2="510.72" stroke="#EDEDED" stroke-width="0.5"/>
<line x1="145.6" y1="505.18" x2="237.6" y2="505.18" stroke="#EDEDED" stroke-width="0.5"/>
<line x1="145.6" y1="499.63" x2="237.6" y2="499.63" stroke="#EDEDED" stroke-width="0.5"/>
<line x1="145.6" y1="494.09" x2="237.6" y2="494.09" stroke="#EDEDED" stroke-width="0.5"/>
<line x1="145.6" y1="488.54" x2="237.6" y2="488.54" stroke="#EDEDED" stroke-width="0.5"/>
<line x1="145.6" y1="483" x2="237.6" y2="483" stroke="#EDEDED" stroke-width="0.5"/>
<line x1="146" y1="483" x2="146" y2="532.9" stroke="#EDEDED" stroke-width="0.5"/>
<line x1="163.44" y1="483" x2="163.44" y2="532.9" stroke="#EDEDED" stroke-width="0.5"/>
<line x1="180.88" y1="483" x2="180.88" y2="532.9" stroke="#EDEDED" stroke-width="0.5"/>
<line x1="198.32" y1="483" x2="198.32" y2="532.9" stroke="#EDEDED" stroke-width="0.5"/>
<line x1="215.76" y1="483" x2="215.76" y2="532.9" stroke="#EDEDED" stroke-width="0.5"/>
<line x1="233.2" y1="483" x2="233.2" y2="532.9" stroke="#EDEDED" stroke-width="0.5"/>
<line x1="237.6" y1="483" x2="237.6" y2="532.9" stroke="#EDEDED" stroke-width="0.5"/>
<text x="143.8" y="534.1" font-size="3.0" text-anchor="end" fill="#3a3a3a" font-family="Liberation Sans, sans-serif" font-weight="bold">-10</text>
<text x="143.8" y="528.56" font-size="3.0" text-anchor="end" fill="#3a3a3a" font-family="Liberation Sans, sans-serif" font-weight="bold">-8</text>
<text x="143.8" y="523.01" font-size="3.0" text-anchor="end" fill="#3a3a3a" font-family="Liberation Sans, sans-serif" font-weight="bold">-6</text>
<text x="143.8" y="517.47" font-size="3.0" text-anchor="end" fill="#3a3a3a" font-family="Liberation Sans, sans-serif" font-weight="bold">-4</text>
<text x="143.8" y="511.92" font-size="3.0" text-anchor="end" fill="#3a3a3a" font-family="Liberation Sans, sans-serif" font-weight="bold">-2</text>
<text x="143.8" y="506.38" font-size="3.0" text-anchor="end" fill="#3a3a3a" font-family="Liberation Sans, sans-serif" font-weight="bold">0</text>
<text x="143.8" y="500.83" font-size="3.0" text-anchor="end" fill="#3a3a3a" font-family="Liberation Sans, sans-serif" font-weight="bold">2</text>
<text x="143.8" y="495.29" font-size="3.0" text-anchor="end" fill="#3a3a3a" font-family="Liberation Sans, sans-serif" font-weight="bold">4</text>
<text x="143.8" y="489.74" font-size="3.0" text-anchor="end" fill="#3a3a3a" font-family="Liberation Sans, sans-serif" font-weight="bold">6</text>
<text x="143.8" y="484.2" font-size="3.0" text-anchor="end" fill="#3a3a3a" font-family="Liberation Sans, sans-serif" font-weight="bold">8</text>
<text x="146" y="509.3" font-size="3.0" text-anchor="middle" fill="#3a3a3a" font-family="Liberation Sans, sans-serif" font-weight="bold">60</text>
<text x="163.44" y="509.3" font-size="3.0" text-anchor="middle" fill="#3a3a3a" font-family="Liberation Sans, sans-serif" font-weight="bold">70</text>
<text x="180.88" y="509.3" font-size="3.0" text-anchor="middle" fill="#3a3a3a" font-family="Liberation Sans, sans-serif" font-weight="bold">80</text>
<text x="198.32" y="509.3" font-size="3.0" text-anchor="middle" fill="#3a3a3a" font-family="Liberation Sans, sans-serif" font-weight="bold">90</text>
<text x="215.76" y="509.3" font-size="3.0" text-anchor="middle" fill="#3a3a3a" font-family="Liberation Sans, sans-serif" font-weight="bold">100</text>
<text x="233.2" y="509.3" font-size="3.0" text-anchor="middle" fill="#3a3a3a" font-family="Liberation Sans, sans-serif" font-weight="bold">110</text>
<polyline points="145.1,505.1 163,505.1 163,496.5 172.4,496.5 173,505.1 179.5,505.1 179.8,527.8 182.4,527.8 183.6,500.7 184.5,500.7 186.6,505.1 236,505.1" fill="none" stroke="#FFCA3A" stroke-width="1.2" stroke-linejoin="round"/>
<polyline points="145.1,505.1 174.8,505.1 175.2,527.8 176,527.8 177.5,491.2 178.5,496 180.7,513.4 187.7,513.4 188.3,505.1 192.5,505.1 192.5,491.5 195.4,491.5 199,496 203,500.5 209.2,504.8 212,505.5 216,505.1 236,505.1" fill="none" stroke="#34C98E" stroke-width="1.2" stroke-linejoin="round"/>
<polyline points="145.1,505.1 173.4,505.1 173.6,527.8 174.3,527.8 175,494 175.5,494 176.5,513.4 186.6,513.4 187.2,522.5 187.8,505.1 197.6,505.1 197.6,491.5 209.4,491.5 209.4,505.1 212.7,505.1 213.6,527.8 215,505.1 236,505.1" fill="none" stroke="#F5686A" stroke-width="1.2" stroke-linejoin="round"/>
<polyline points="145.1,505.1 177.7,505.1 177.9,513.4 203.5,513.4 203.5,491.5 214.5,491.5 214.5,505.1 226.3,505.1 226.3,527.8 230.2,527.8 231,493 232,498 234,505.1 236,505.1" fill="none" stroke="#C9A3D9" stroke-width="1.15" stroke-linejoin="round"/>
<polyline points="144,538.8 149.6,538.8" fill="none" stroke="#FFCA3A" stroke-width="1.4" stroke-linejoin="round"/>
<text x="150.4" y="539.8" font-size="3.0" text-anchor="start" fill="#404040" font-family="Liberation Sans, sans-serif">ONRAMP 3</text>
<polyline points="167.1,538.8 172.7,538.8" fill="none" stroke="#34C98E" stroke-width="1.4" stroke-linejoin="round"/>
<text x="173.5" y="539.8" font-size="3.0" text-anchor="start" fill="#404040" font-family="Liberation Sans, sans-serif">ONRAMP 9</text>
<polyline points="189.9,538.8 195.5,538.8" fill="none" stroke="#F5686A" stroke-width="1.4" stroke-linejoin="round"/>
<text x="196.3" y="539.8" font-size="3.0" text-anchor="start" fill="#404040" font-family="Liberation Sans, sans-serif">ONRAMP 10</text>
<polyline points="214.3,538.8 219.9,538.8" fill="none" stroke="#C9A3D9" stroke-width="1.4" stroke-linejoin="round"/>
<text x="220.7" y="539.8" font-size="3.0" text-anchor="start" fill="#404040" font-family="Liberation Sans, sans-serif">ONRAMP 11</text>
<text x="135.13" y="499" font-size="6.4" text-anchor="middle" fill="#222" stroke="#222" stroke-width="0.15" font-family="Liberation Serif, serif" transform="rotate(-90 135.13 499)"><tspan font-style="italic">a</tspan>(m/ s<tspan dy="-2.2" font-size="3.8">2</tspan><tspan dy="2.2">)</tspan></text>
<text x="240" y="531" font-size="6.4" letter-spacing="0.5" fill="#222" stroke="#222" stroke-width="0.2" font-family="Liberation Serif, serif"><tspan font-style="italic">t</tspan>(<tspan font-style="italic">s</tspan>)</text>
<text x="190.4" y="546.6" font-size="7.3" text-anchor="middle" fill="#222" stroke="#222" stroke-width="0.25" font-family="Liberation Serif, serif">(e&#8201;3)</text>
<line x1="272.2" y1="529.9" x2="363.4" y2="529.9" stroke="#EDEDED" stroke-width="0.5"/>
<line x1="272.2" y1="524.54" x2="363.4" y2="524.54" stroke="#EDEDED" stroke-width="0.5"/>
<line x1="272.2" y1="519.19" x2="363.4" y2="519.19" stroke="#EDEDED" stroke-width="0.5"/>
<line x1="272.2" y1="513.83" x2="363.4" y2="513.83" stroke="#EDEDED" stroke-width="0.5"/>
<line x1="272.2" y1="508.48" x2="363.4" y2="508.48" stroke="#EDEDED" stroke-width="0.5"/>
<line x1="272.2" y1="503.12" x2="363.4" y2="503.12" stroke="#EDEDED" stroke-width="0.5"/>
<line x1="272.2" y1="497.77" x2="363.4" y2="497.77" stroke="#EDEDED" stroke-width="0.5"/>
<line x1="272.2" y1="492.41" x2="363.4" y2="492.41" stroke="#EDEDED" stroke-width="0.5"/>
<line x1="272.2" y1="487.06" x2="363.4" y2="487.06" stroke="#EDEDED" stroke-width="0.5"/>
<line x1="272.2" y1="481.7" x2="363.4" y2="481.7" stroke="#EDEDED" stroke-width="0.5"/>
<line x1="273.2" y1="481.7" x2="273.2" y2="529.9" stroke="#EDEDED" stroke-width="0.5"/>
<line x1="293.1" y1="481.7" x2="293.1" y2="529.9" stroke="#EDEDED" stroke-width="0.5"/>
<line x1="313" y1="481.7" x2="313" y2="529.9" stroke="#EDEDED" stroke-width="0.5"/>
<line x1="332.9" y1="481.7" x2="332.9" y2="529.9" stroke="#EDEDED" stroke-width="0.5"/>
<line x1="352.8" y1="481.7" x2="352.8" y2="529.9" stroke="#EDEDED" stroke-width="0.5"/>
<line x1="363.4" y1="481.7" x2="363.4" y2="529.9" stroke="#EDEDED" stroke-width="0.5"/>
<text x="270.1" y="531.1" font-size="3.0" text-anchor="end" fill="#3a3a3a" font-family="Liberation Sans, sans-serif" font-weight="bold">-10</text>
<text x="270.1" y="525.74" font-size="3.0" text-anchor="end" fill="#3a3a3a" font-family="Liberation Sans, sans-serif" font-weight="bold">-8</text>
<text x="270.1" y="520.39" font-size="3.0" text-anchor="end" fill="#3a3a3a" font-family="Liberation Sans, sans-serif" font-weight="bold">-6</text>
<text x="270.1" y="515.03" font-size="3.0" text-anchor="end" fill="#3a3a3a" font-family="Liberation Sans, sans-serif" font-weight="bold">-4</text>
<text x="270.1" y="509.68" font-size="3.0" text-anchor="end" fill="#3a3a3a" font-family="Liberation Sans, sans-serif" font-weight="bold">-2</text>
<text x="270.1" y="504.32" font-size="3.0" text-anchor="end" fill="#3a3a3a" font-family="Liberation Sans, sans-serif" font-weight="bold">0</text>
<text x="270.1" y="498.97" font-size="3.0" text-anchor="end" fill="#3a3a3a" font-family="Liberation Sans, sans-serif" font-weight="bold">2</text>
<text x="270.1" y="493.61" font-size="3.0" text-anchor="end" fill="#3a3a3a" font-family="Liberation Sans, sans-serif" font-weight="bold">4</text>
<text x="270.1" y="488.26" font-size="3.0" text-anchor="end" fill="#3a3a3a" font-family="Liberation Sans, sans-serif" font-weight="bold">6</text>
<text x="270.1" y="482.9" font-size="3.0" text-anchor="end" fill="#3a3a3a" font-family="Liberation Sans, sans-serif" font-weight="bold">8</text>
<text x="273.2" y="507" font-size="3.0" text-anchor="middle" fill="#3a3a3a" font-family="Liberation Sans, sans-serif" font-weight="bold">60</text>
<text x="293.1" y="507" font-size="3.0" text-anchor="middle" fill="#3a3a3a" font-family="Liberation Sans, sans-serif" font-weight="bold">70</text>
<text x="313" y="507" font-size="3.0" text-anchor="middle" fill="#3a3a3a" font-family="Liberation Sans, sans-serif" font-weight="bold">80</text>
<text x="332.9" y="507" font-size="3.0" text-anchor="middle" fill="#3a3a3a" font-family="Liberation Sans, sans-serif" font-weight="bold">90</text>
<text x="352.8" y="507" font-size="3.0" text-anchor="middle" fill="#3a3a3a" font-family="Liberation Sans, sans-serif" font-weight="bold">100</text>
<polyline points="271.5,503.4 292.2,503.4 292.2,487.2 294.4,487.2 294.6,503.4 307.3,503.4 307.3,524.6 309.3,524.6 311.5,499 312.3,499 313.9,503.4 363.4,503.4" fill="none" stroke="#FFCA3A" stroke-width="1.2" stroke-linejoin="round"/>
<polyline points="293.9,503.4 293.9,487.2 299.7,487.2 299.7,503.4 309.3,503.4 309.3,524.6 313.6,524.6 315.4,495.1 317.8,503.4 363.4,503.4" fill="none" stroke="#34C98E" stroke-width="1.2" stroke-linejoin="round"/>
<polyline points="298.1,503.4 298.1,524.6 298.8,489 300.1,489 301,494 302,499.5 304,504.5 306,503.8 363.4,503.4" fill="none" stroke="#F5686A" stroke-width="1.2" stroke-linejoin="round"/>
<polyline points="271.5,503.4 298.1,503.4 298.1,508.2 306.7,508.2 309,489.4 319.4,489.4 319.8,524.6 324.4,524.6 325.3,496.4 327,503.4 363.4,503.4" fill="none" stroke="#C9A3D9" stroke-width="1.15" stroke-linejoin="round"/>
<polyline points="271.5,535.8 277.1,535.8" fill="none" stroke="#FFCA3A" stroke-width="1.4" stroke-linejoin="round"/>
<text x="277.9" y="536.8" font-size="3.0" text-anchor="start" fill="#404040" font-family="Liberation Sans, sans-serif">ONRAMP 3</text>
<polyline points="294.7,535.8 300.3,535.8" fill="none" stroke="#34C98E" stroke-width="1.4" stroke-linejoin="round"/>
<text x="301.1" y="536.8" font-size="3.0" text-anchor="start" fill="#404040" font-family="Liberation Sans, sans-serif">ONRAMP 4</text>
<polyline points="319.1,535.8 324.7,535.8" fill="none" stroke="#F5686A" stroke-width="1.4" stroke-linejoin="round"/>
<text x="325.5" y="536.8" font-size="3.0" text-anchor="start" fill="#404040" font-family="Liberation Sans, sans-serif">ONRAMP 8</text>
<polyline points="342,535.8 347.6,535.8" fill="none" stroke="#C9A3D9" stroke-width="1.4" stroke-linejoin="round"/>
<text x="348.4" y="536.8" font-size="3.0" text-anchor="start" fill="#404040" font-family="Liberation Sans, sans-serif">ONRAMP 9</text>
<text x="257.93" y="497.8" font-size="6.4" text-anchor="middle" fill="#222" stroke="#222" stroke-width="0.15" font-family="Liberation Serif, serif" transform="rotate(-90 257.93 497.8)"><tspan font-style="italic">a</tspan>(m/ s<tspan dy="-2.2" font-size="3.8">2</tspan><tspan dy="2.2">)</tspan></text>
<text x="365.9" y="526.8" font-size="6.4" letter-spacing="0.5" fill="#222" stroke="#222" stroke-width="0.2" font-family="Liberation Serif, serif"><tspan font-style="italic">t</tspan>(<tspan font-style="italic">s</tspan>)</text>
<text x="315.5" y="548" font-size="7.3" text-anchor="middle" fill="#222" stroke="#222" stroke-width="0.25" font-family="Liberation Serif, serif">(f&#8201;3)</text>
</svg>
</body></html>
